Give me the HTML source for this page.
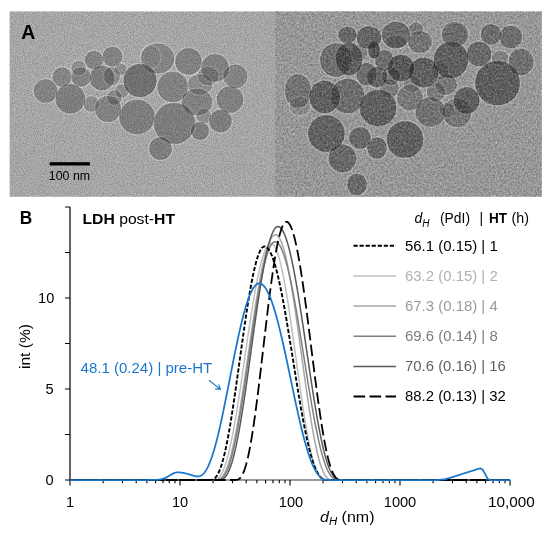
<!DOCTYPE html>
<html><head><meta charset="utf-8"><title>Figure</title>
<style>
html,body{margin:0;padding:0;background:#fff;}
body{width:550px;height:535px;overflow:hidden;font-family:"Liberation Sans",sans-serif;}
svg{display:block}
text{font-family:"Liberation Sans",sans-serif}
</style></head><body>
<svg width="550" height="535" viewBox="0 0 550 535" font-size="14" fill="#000">
<defs>
<filter id="noise" x="0" y="0" width="100%" height="100%">
<feTurbulence type="fractalNoise" baseFrequency="0.9" numOctaves="2" seed="3" result="n"/>
<feColorMatrix type="matrix" values="0 0 0 0 0  0 0 0 0 0  0 0 0 0 0  1.6 0 0 0 -0.55"/>
</filter>
<filter id="noiseW" x="0" y="0" width="100%" height="100%">
<feTurbulence type="fractalNoise" baseFrequency="0.85" numOctaves="2" seed="11" result="n"/>
<feColorMatrix type="matrix" values="0 0 0 0 1  0 0 0 0 1  0 0 0 0 1  0 1.6 0 0 -0.55"/>
</filter>
<filter id="noiseC" x="0" y="0" width="100%" height="100%">
<feTurbulence type="fractalNoise" baseFrequency="0.45" numOctaves="2" seed="7"/>
<feColorMatrix type="matrix" values="0 0 0 0 0  0 0 0 0 0  0 0 0 0 0  2.2 0 0 0 -0.85"/>
</filter>
<filter id="noiseCW" x="0" y="0" width="100%" height="100%">
<feTurbulence type="fractalNoise" baseFrequency="0.45" numOctaves="2" seed="23"/>
<feColorMatrix type="matrix" values="0 0 0 0 1  0 0 0 0 1  0 0 0 0 1  0 2.2 0 0 -0.85"/>
</filter>
<filter id="soft"><feGaussianBlur stdDeviation="0.55"/></filter>
<clipPath id="cl"><rect x="9.8" y="11.5" width="265.7" height="185.2"/></clipPath>
<clipPath id="cr"><rect x="275.5" y="11.5" width="266.3" height="185.2"/></clipPath>
</defs>
<rect width="550" height="535" fill="#fff"/>
<!-- TEM left -->
<rect x="9.8" y="11.5" width="268" height="185.2" fill="#adadad"/>
<g clip-path="url(#cl)"><g filter="url(#soft)">
<ellipse cx="45.6" cy="91" rx="12.4" ry="12.4" fill="none" stroke="#fff" stroke-opacity=".38" stroke-width="1.2"/>
<ellipse cx="70.3" cy="98.7" rx="15.4" ry="15.4" fill="none" stroke="#fff" stroke-opacity=".38" stroke-width="1.2"/>
<ellipse cx="62" cy="77" rx="10.3" ry="10.3" fill="none" stroke="#fff" stroke-opacity=".38" stroke-width="1.2"/>
<ellipse cx="81" cy="77" rx="10.3" ry="10.3" fill="none" stroke="#fff" stroke-opacity=".38" stroke-width="1.2"/>
<ellipse cx="94" cy="60" rx="9.9" ry="9.9" fill="none" stroke="#fff" stroke-opacity=".38" stroke-width="1.2"/>
<ellipse cx="112.5" cy="56.7" rx="10.6" ry="10.6" fill="none" stroke="#fff" stroke-opacity=".38" stroke-width="1.2"/>
<ellipse cx="102" cy="78" rx="12.9" ry="12.9" fill="none" stroke="#fff" stroke-opacity=".38" stroke-width="1.2"/>
<ellipse cx="112" cy="76" rx="8.5" ry="9.9" fill="none" stroke="#fff" stroke-opacity=".38" stroke-width="1.2"/>
<ellipse cx="78.7" cy="68" rx="7.9" ry="7.9" fill="none" stroke="#fff" stroke-opacity=".38" stroke-width="1.2"/>
<ellipse cx="140" cy="80.5" rx="17.2" ry="17.2" fill="none" stroke="#fff" stroke-opacity=".38" stroke-width="1.2"/>
<ellipse cx="108" cy="109" rx="13.6" ry="13.6" fill="none" stroke="#fff" stroke-opacity=".38" stroke-width="1.2"/>
<ellipse cx="91.4" cy="104" rx="8.5" ry="8.5" fill="none" stroke="#fff" stroke-opacity=".38" stroke-width="1.2"/>
<ellipse cx="114.5" cy="97.6" rx="7.9" ry="7.9" fill="none" stroke="#fff" stroke-opacity=".38" stroke-width="1.2"/>
<ellipse cx="137" cy="117" rx="18.4" ry="17.9" fill="none" stroke="#fff" stroke-opacity=".38" stroke-width="1.2"/>
<ellipse cx="122" cy="91" rx="7.300000000000001" ry="7.300000000000001" fill="none" stroke="#fff" stroke-opacity=".38" stroke-width="1.2"/>
<ellipse cx="120.7" cy="69.4" rx="6.5" ry="6.5" fill="none" stroke="#fff" stroke-opacity=".38" stroke-width="1.2"/>
<ellipse cx="157.5" cy="58.5" rx="17.4" ry="15.700000000000001" fill="none" stroke="#fff" stroke-opacity=".38" stroke-width="1.2"/>
<ellipse cx="151" cy="57" rx="9.9" ry="11.9" fill="none" stroke="#fff" stroke-opacity=".38" stroke-width="1.2"/>
<ellipse cx="188.5" cy="61.4" rx="13.9" ry="13.9" fill="none" stroke="#fff" stroke-opacity=".38" stroke-width="1.2"/>
<ellipse cx="215" cy="68" rx="14.5" ry="14.5" fill="none" stroke="#fff" stroke-opacity=".38" stroke-width="1.2"/>
<ellipse cx="208" cy="76" rx="10.9" ry="9.9" fill="none" stroke="#fff" stroke-opacity=".38" stroke-width="1.2"/>
<ellipse cx="235.5" cy="76.4" rx="12.4" ry="12.4" fill="none" stroke="#fff" stroke-opacity=".38" stroke-width="1.2"/>
<ellipse cx="230" cy="99.5" rx="13.9" ry="13.9" fill="none" stroke="#fff" stroke-opacity=".38" stroke-width="1.2"/>
<ellipse cx="220.5" cy="121" rx="11.9" ry="11.9" fill="none" stroke="#fff" stroke-opacity=".38" stroke-width="1.2"/>
<ellipse cx="172.7" cy="87" rx="15.9" ry="15.9" fill="none" stroke="#fff" stroke-opacity=".38" stroke-width="1.2"/>
<ellipse cx="197" cy="102" rx="15.9" ry="13.9" fill="none" stroke="#fff" stroke-opacity=".38" stroke-width="1.2"/>
<ellipse cx="200" cy="84.5" rx="12.9" ry="10.9" fill="none" stroke="#fff" stroke-opacity=".38" stroke-width="1.2"/>
<ellipse cx="174.4" cy="123.3" rx="21.2" ry="21.2" fill="none" stroke="#fff" stroke-opacity=".38" stroke-width="1.2"/>
<ellipse cx="200" cy="131" rx="9.6" ry="9.6" fill="none" stroke="#fff" stroke-opacity=".38" stroke-width="1.2"/>
<ellipse cx="160.5" cy="148.6" rx="11.9" ry="11.9" fill="none" stroke="#fff" stroke-opacity=".38" stroke-width="1.2"/>
<ellipse cx="204" cy="116" rx="7.9" ry="7.9" fill="none" stroke="#fff" stroke-opacity=".38" stroke-width="1.2"/>
<ellipse cx="45.6" cy="91" rx="11.5" ry="11.5" fill="#000" fill-opacity="0.234" stroke="#000" stroke-opacity="0.082" stroke-width="1.6"/>
<ellipse cx="70.3" cy="98.7" rx="14.5" ry="14.5" fill="#000" fill-opacity="0.270" stroke="#000" stroke-opacity="0.095" stroke-width="1.6"/>
<ellipse cx="62" cy="77" rx="9.4" ry="9.4" fill="#000" fill-opacity="0.216" stroke="#000" stroke-opacity="0.076" stroke-width="1.6"/>
<ellipse cx="81" cy="77" rx="9.4" ry="9.4" fill="#000" fill-opacity="0.234" stroke="#000" stroke-opacity="0.082" stroke-width="1.6"/>
<ellipse cx="94" cy="60" rx="9" ry="9" fill="#000" fill-opacity="0.234" stroke="#000" stroke-opacity="0.082" stroke-width="1.6"/>
<ellipse cx="112.5" cy="56.7" rx="9.7" ry="9.7" fill="#000" fill-opacity="0.243" stroke="#000" stroke-opacity="0.085" stroke-width="1.6"/>
<ellipse cx="102" cy="78" rx="12" ry="12" fill="#000" fill-opacity="0.270" stroke="#000" stroke-opacity="0.095" stroke-width="1.6"/>
<ellipse cx="112" cy="76" rx="7.6" ry="9" fill="#000" fill-opacity="0.198" stroke="#000" stroke-opacity="0.069" stroke-width="1.6"/>
<ellipse cx="78.7" cy="68" rx="7" ry="7" fill="#000" fill-opacity="0.162" stroke="#000" stroke-opacity="0.057" stroke-width="1.6"/>
<ellipse cx="140" cy="80.5" rx="16.3" ry="16.3" fill="#000" fill-opacity="0.360" stroke="#000" stroke-opacity="0.126" stroke-width="1.6"/>
<ellipse cx="108" cy="109" rx="12.7" ry="12.7" fill="#000" fill-opacity="0.243" stroke="#000" stroke-opacity="0.085" stroke-width="1.6"/>
<ellipse cx="91.4" cy="104" rx="7.6" ry="7.6" fill="#000" fill-opacity="0.180" stroke="#000" stroke-opacity="0.063" stroke-width="1.6"/>
<ellipse cx="114.5" cy="97.6" rx="7" ry="7" fill="#000" fill-opacity="0.225" stroke="#000" stroke-opacity="0.079" stroke-width="1.6"/>
<ellipse cx="137" cy="117" rx="17.5" ry="17" fill="#000" fill-opacity="0.270" stroke="#000" stroke-opacity="0.095" stroke-width="1.6"/>
<ellipse cx="122" cy="91" rx="6.4" ry="6.4" fill="#000" fill-opacity="0.162" stroke="#000" stroke-opacity="0.057" stroke-width="1.6"/>
<ellipse cx="120.7" cy="69.4" rx="5.6" ry="5.6" fill="#000" fill-opacity="0.180" stroke="#000" stroke-opacity="0.063" stroke-width="1.6"/>
<ellipse cx="157.5" cy="58.5" rx="16.5" ry="14.8" fill="#000" fill-opacity="0.225" stroke="#000" stroke-opacity="0.079" stroke-width="1.6"/>
<ellipse cx="151" cy="57" rx="9" ry="11" fill="#000" fill-opacity="0.045" stroke="#000" stroke-opacity="0.016" stroke-width="1.6"/>
<ellipse cx="188.5" cy="61.4" rx="13" ry="13" fill="#000" fill-opacity="0.252" stroke="#000" stroke-opacity="0.088" stroke-width="1.6"/>
<ellipse cx="215" cy="68" rx="13.6" ry="13.6" fill="#000" fill-opacity="0.252" stroke="#000" stroke-opacity="0.088" stroke-width="1.6"/>
<ellipse cx="208" cy="76" rx="10" ry="9" fill="#000" fill-opacity="0.162" stroke="#000" stroke-opacity="0.057" stroke-width="1.6"/>
<ellipse cx="235.5" cy="76.4" rx="11.5" ry="11.5" fill="#000" fill-opacity="0.234" stroke="#000" stroke-opacity="0.082" stroke-width="1.6"/>
<ellipse cx="230" cy="99.5" rx="13" ry="13" fill="#000" fill-opacity="0.252" stroke="#000" stroke-opacity="0.088" stroke-width="1.6"/>
<ellipse cx="220.5" cy="121" rx="11" ry="11" fill="#000" fill-opacity="0.270" stroke="#000" stroke-opacity="0.095" stroke-width="1.6"/>
<ellipse cx="172.7" cy="87" rx="15" ry="15" fill="#000" fill-opacity="0.243" stroke="#000" stroke-opacity="0.085" stroke-width="1.6"/>
<ellipse cx="197" cy="102" rx="15" ry="13" fill="#000" fill-opacity="0.243" stroke="#000" stroke-opacity="0.085" stroke-width="1.6"/>
<ellipse cx="200" cy="84.5" rx="12" ry="10" fill="#000" fill-opacity="0.180" stroke="#000" stroke-opacity="0.063" stroke-width="1.6"/>
<ellipse cx="174.4" cy="123.3" rx="20.3" ry="20.3" fill="#000" fill-opacity="0.279" stroke="#000" stroke-opacity="0.098" stroke-width="1.6"/>
<ellipse cx="200" cy="131" rx="8.7" ry="8.7" fill="#000" fill-opacity="0.270" stroke="#000" stroke-opacity="0.095" stroke-width="1.6"/>
<ellipse cx="160.5" cy="148.6" rx="11" ry="11" fill="#000" fill-opacity="0.270" stroke="#000" stroke-opacity="0.095" stroke-width="1.6"/>
<ellipse cx="204" cy="116" rx="7" ry="7" fill="#000" fill-opacity="0.180" stroke="#000" stroke-opacity="0.063" stroke-width="1.6"/>
</g></g>
<!-- TEM right -->
<rect x="275.5" y="11.5" width="266.3" height="185.2" fill="#a0a0a0"/>
<g clip-path="url(#cr)"><g filter="url(#soft)">
<ellipse cx="298" cy="91" rx="13.6" ry="17.4" fill="none" stroke="#fff" stroke-opacity=".38" stroke-width="1.2"/>
<ellipse cx="300" cy="106" rx="10.9" ry="9.9" fill="none" stroke="#fff" stroke-opacity=".38" stroke-width="1.2"/>
<ellipse cx="324.6" cy="97" rx="15.9" ry="16.9" fill="none" stroke="#fff" stroke-opacity=".38" stroke-width="1.2"/>
<ellipse cx="336" cy="60" rx="16.4" ry="17.4" fill="none" stroke="#fff" stroke-opacity=".38" stroke-width="1.2"/>
<ellipse cx="349" cy="59" rx="13.9" ry="16.9" fill="none" stroke="#fff" stroke-opacity=".38" stroke-width="1.2"/>
<ellipse cx="347.5" cy="35" rx="9.9" ry="8.9" fill="none" stroke="#fff" stroke-opacity=".38" stroke-width="1.2"/>
<ellipse cx="369" cy="37.5" rx="12.9" ry="11.9" fill="none" stroke="#fff" stroke-opacity=".38" stroke-width="1.2"/>
<ellipse cx="396" cy="35" rx="14.9" ry="13.9" fill="none" stroke="#fff" stroke-opacity=".38" stroke-width="1.2"/>
<ellipse cx="396" cy="42" rx="10.9" ry="6.9" fill="none" stroke="#fff" stroke-opacity=".38" stroke-width="1.2"/>
<ellipse cx="401" cy="68" rx="13.6" ry="13.9" fill="none" stroke="#fff" stroke-opacity=".38" stroke-width="1.2"/>
<ellipse cx="377" cy="77" rx="10.9" ry="10.9" fill="none" stroke="#fff" stroke-opacity=".38" stroke-width="1.2"/>
<ellipse cx="347.5" cy="96" rx="17.4" ry="17.9" fill="none" stroke="#fff" stroke-opacity=".38" stroke-width="1.2"/>
<ellipse cx="378" cy="108" rx="18.9" ry="18.9" fill="none" stroke="#fff" stroke-opacity=".38" stroke-width="1.2"/>
<ellipse cx="410" cy="97.5" rx="13.4" ry="13.4" fill="none" stroke="#fff" stroke-opacity=".38" stroke-width="1.2"/>
<ellipse cx="374" cy="50" rx="6.4" ry="9.4" fill="none" stroke="#fff" stroke-opacity=".38" stroke-width="1.2"/>
<ellipse cx="455" cy="34.4" rx="13.6" ry="12.9" fill="none" stroke="#fff" stroke-opacity=".38" stroke-width="1.2"/>
<ellipse cx="491" cy="34.4" rx="10.9" ry="10.9" fill="none" stroke="#fff" stroke-opacity=".38" stroke-width="1.2"/>
<ellipse cx="510.7" cy="37" rx="11.9" ry="11.9" fill="none" stroke="#fff" stroke-opacity=".38" stroke-width="1.2"/>
<ellipse cx="521" cy="62" rx="12.9" ry="13.9" fill="none" stroke="#fff" stroke-opacity=".38" stroke-width="1.2"/>
<ellipse cx="497.5" cy="83" rx="22.9" ry="22.9" fill="none" stroke="#fff" stroke-opacity=".38" stroke-width="1.2"/>
<ellipse cx="451" cy="60" rx="17.9" ry="18.9" fill="none" stroke="#fff" stroke-opacity=".38" stroke-width="1.2"/>
<ellipse cx="479" cy="54" rx="12.9" ry="12.9" fill="none" stroke="#fff" stroke-opacity=".38" stroke-width="1.2"/>
<ellipse cx="423.7" cy="72.6" rx="15.4" ry="15.4" fill="none" stroke="#fff" stroke-opacity=".38" stroke-width="1.2"/>
<ellipse cx="466.6" cy="100.5" rx="13.4" ry="13.9" fill="none" stroke="#fff" stroke-opacity=".38" stroke-width="1.2"/>
<ellipse cx="420" cy="42" rx="12.4" ry="11.4" fill="none" stroke="#fff" stroke-opacity=".38" stroke-width="1.2"/>
<ellipse cx="416" cy="29" rx="7.5" ry="6.9" fill="none" stroke="#fff" stroke-opacity=".38" stroke-width="1.2"/>
<ellipse cx="430.5" cy="112" rx="15.4" ry="15.4" fill="none" stroke="#fff" stroke-opacity=".38" stroke-width="1.2"/>
<ellipse cx="446" cy="84.5" rx="11.4" ry="10.9" fill="none" stroke="#fff" stroke-opacity=".38" stroke-width="1.2"/>
<ellipse cx="457" cy="113" rx="14.9" ry="14.9" fill="none" stroke="#fff" stroke-opacity=".38" stroke-width="1.2"/>
<ellipse cx="326.4" cy="133.6" rx="18.9" ry="18.9" fill="none" stroke="#fff" stroke-opacity=".38" stroke-width="1.2"/>
<ellipse cx="360" cy="138" rx="11.4" ry="11.4" fill="none" stroke="#fff" stroke-opacity=".38" stroke-width="1.2"/>
<ellipse cx="342.4" cy="158.4" rx="14.4" ry="14.4" fill="none" stroke="#fff" stroke-opacity=".38" stroke-width="1.2"/>
<ellipse cx="377" cy="148" rx="10.4" ry="11.4" fill="none" stroke="#fff" stroke-opacity=".38" stroke-width="1.2"/>
<ellipse cx="405" cy="139.5" rx="18.9" ry="18.9" fill="none" stroke="#fff" stroke-opacity=".38" stroke-width="1.2"/>
<ellipse cx="357" cy="184.5" rx="10.4" ry="11.4" fill="none" stroke="#fff" stroke-opacity=".38" stroke-width="1.2"/>
<ellipse cx="447" cy="110" rx="7.9" ry="7.9" fill="none" stroke="#fff" stroke-opacity=".38" stroke-width="1.2"/>
<ellipse cx="500" cy="58" rx="8.9" ry="7.9" fill="none" stroke="#fff" stroke-opacity=".38" stroke-width="1.2"/>
<ellipse cx="366.6" cy="74.3" rx="10.9" ry="11.9" fill="none" stroke="#fff" stroke-opacity=".38" stroke-width="1.2"/>
<ellipse cx="384.4" cy="60.3" rx="9.9" ry="10.9" fill="none" stroke="#fff" stroke-opacity=".38" stroke-width="1.2"/>
<ellipse cx="391" cy="76" rx="9.4" ry="9.9" fill="none" stroke="#fff" stroke-opacity=".38" stroke-width="1.2"/>
<ellipse cx="359" cy="52.7" rx="8.9" ry="8.9" fill="none" stroke="#fff" stroke-opacity=".38" stroke-width="1.2"/>
<ellipse cx="389.5" cy="88.3" rx="9.9" ry="9.9" fill="none" stroke="#fff" stroke-opacity=".38" stroke-width="1.2"/>
<ellipse cx="436" cy="92" rx="9.9" ry="9.9" fill="none" stroke="#fff" stroke-opacity=".38" stroke-width="1.2"/>
<ellipse cx="440" cy="70" rx="8.9" ry="9.9" fill="none" stroke="#fff" stroke-opacity=".38" stroke-width="1.2"/>
<ellipse cx="412" cy="84" rx="8.9" ry="8.9" fill="none" stroke="#fff" stroke-opacity=".38" stroke-width="1.2"/>
<ellipse cx="298" cy="91" rx="12.7" ry="16.5" fill="#000" fill-opacity="0.297" stroke="#000" stroke-opacity="0.104" stroke-width="1.6"/>
<ellipse cx="300" cy="106" rx="10" ry="9" fill="#000" fill-opacity="0.135" stroke="#000" stroke-opacity="0.047" stroke-width="1.6"/>
<ellipse cx="324.6" cy="97" rx="15" ry="16" fill="#000" fill-opacity="0.450" stroke="#000" stroke-opacity="0.158" stroke-width="1.6"/>
<ellipse cx="336" cy="60" rx="15.5" ry="16.5" fill="#000" fill-opacity="0.324" stroke="#000" stroke-opacity="0.113" stroke-width="1.6"/>
<ellipse cx="349" cy="59" rx="13" ry="16" fill="#000" fill-opacity="0.450" stroke="#000" stroke-opacity="0.158" stroke-width="1.6"/>
<ellipse cx="347.5" cy="35" rx="9" ry="8" fill="#000" fill-opacity="0.378" stroke="#000" stroke-opacity="0.132" stroke-width="1.6"/>
<ellipse cx="369" cy="37.5" rx="12" ry="11" fill="#000" fill-opacity="0.405" stroke="#000" stroke-opacity="0.142" stroke-width="1.6"/>
<ellipse cx="396" cy="35" rx="14" ry="13" fill="#000" fill-opacity="0.360" stroke="#000" stroke-opacity="0.126" stroke-width="1.6"/>
<ellipse cx="396" cy="42" rx="10" ry="6" fill="#000" fill-opacity="0.225" stroke="#000" stroke-opacity="0.079" stroke-width="1.6"/>
<ellipse cx="401" cy="68" rx="12.7" ry="13" fill="#000" fill-opacity="0.504" stroke="#000" stroke-opacity="0.176" stroke-width="1.6"/>
<ellipse cx="377" cy="77" rx="10" ry="10" fill="#000" fill-opacity="0.405" stroke="#000" stroke-opacity="0.142" stroke-width="1.6"/>
<ellipse cx="347.5" cy="96" rx="16.5" ry="17" fill="#000" fill-opacity="0.342" stroke="#000" stroke-opacity="0.120" stroke-width="1.6"/>
<ellipse cx="378" cy="108" rx="18" ry="18" fill="#000" fill-opacity="0.450" stroke="#000" stroke-opacity="0.158" stroke-width="1.6"/>
<ellipse cx="410" cy="97.5" rx="12.5" ry="12.5" fill="#000" fill-opacity="0.243" stroke="#000" stroke-opacity="0.085" stroke-width="1.6"/>
<ellipse cx="374" cy="50" rx="5.5" ry="8.5" fill="#000" fill-opacity="0.540" stroke="#000" stroke-opacity="0.189" stroke-width="1.6"/>
<ellipse cx="455" cy="34.4" rx="12.7" ry="12" fill="#000" fill-opacity="0.342" stroke="#000" stroke-opacity="0.120" stroke-width="1.6"/>
<ellipse cx="491" cy="34.4" rx="10" ry="10" fill="#000" fill-opacity="0.342" stroke="#000" stroke-opacity="0.120" stroke-width="1.6"/>
<ellipse cx="510.7" cy="37" rx="11" ry="11" fill="#000" fill-opacity="0.342" stroke="#000" stroke-opacity="0.120" stroke-width="1.6"/>
<ellipse cx="521" cy="62" rx="12" ry="13" fill="#000" fill-opacity="0.324" stroke="#000" stroke-opacity="0.113" stroke-width="1.6"/>
<ellipse cx="497.5" cy="83" rx="22" ry="22" fill="#000" fill-opacity="0.468" stroke="#000" stroke-opacity="0.164" stroke-width="1.6"/>
<ellipse cx="451" cy="60" rx="17" ry="18" fill="#000" fill-opacity="0.450" stroke="#000" stroke-opacity="0.158" stroke-width="1.6"/>
<ellipse cx="479" cy="54" rx="12" ry="12" fill="#000" fill-opacity="0.378" stroke="#000" stroke-opacity="0.132" stroke-width="1.6"/>
<ellipse cx="423.7" cy="72.6" rx="14.5" ry="14.5" fill="#000" fill-opacity="0.450" stroke="#000" stroke-opacity="0.158" stroke-width="1.6"/>
<ellipse cx="466.6" cy="100.5" rx="12.5" ry="13" fill="#000" fill-opacity="0.450" stroke="#000" stroke-opacity="0.158" stroke-width="1.6"/>
<ellipse cx="420" cy="42" rx="11.5" ry="10.5" fill="#000" fill-opacity="0.288" stroke="#000" stroke-opacity="0.101" stroke-width="1.6"/>
<ellipse cx="416" cy="29" rx="6.6" ry="6" fill="#000" fill-opacity="0.252" stroke="#000" stroke-opacity="0.088" stroke-width="1.6"/>
<ellipse cx="430.5" cy="112" rx="14.5" ry="14.5" fill="#000" fill-opacity="0.306" stroke="#000" stroke-opacity="0.107" stroke-width="1.6"/>
<ellipse cx="446" cy="84.5" rx="10.5" ry="10" fill="#000" fill-opacity="0.270" stroke="#000" stroke-opacity="0.095" stroke-width="1.6"/>
<ellipse cx="457" cy="113" rx="14" ry="14" fill="#000" fill-opacity="0.270" stroke="#000" stroke-opacity="0.095" stroke-width="1.6"/>
<ellipse cx="326.4" cy="133.6" rx="18" ry="18" fill="#000" fill-opacity="0.432" stroke="#000" stroke-opacity="0.151" stroke-width="1.6"/>
<ellipse cx="360" cy="138" rx="10.5" ry="10.5" fill="#000" fill-opacity="0.378" stroke="#000" stroke-opacity="0.132" stroke-width="1.6"/>
<ellipse cx="342.4" cy="158.4" rx="13.5" ry="13.5" fill="#000" fill-opacity="0.378" stroke="#000" stroke-opacity="0.132" stroke-width="1.6"/>
<ellipse cx="377" cy="148" rx="9.5" ry="10.5" fill="#000" fill-opacity="0.378" stroke="#000" stroke-opacity="0.132" stroke-width="1.6"/>
<ellipse cx="405" cy="139.5" rx="18" ry="18" fill="#000" fill-opacity="0.450" stroke="#000" stroke-opacity="0.158" stroke-width="1.6"/>
<ellipse cx="357" cy="184.5" rx="9.5" ry="10.5" fill="#000" fill-opacity="0.378" stroke="#000" stroke-opacity="0.132" stroke-width="1.6"/>
<ellipse cx="447" cy="110" rx="7" ry="7" fill="#000" fill-opacity="0.180" stroke="#000" stroke-opacity="0.063" stroke-width="1.6"/>
<ellipse cx="500" cy="58" rx="8" ry="7" fill="#000" fill-opacity="0.180" stroke="#000" stroke-opacity="0.063" stroke-width="1.6"/>
<ellipse cx="366.6" cy="74.3" rx="10" ry="11" fill="#000" fill-opacity="0.342" stroke="#000" stroke-opacity="0.120" stroke-width="1.6"/>
<ellipse cx="384.4" cy="60.3" rx="9" ry="10" fill="#000" fill-opacity="0.342" stroke="#000" stroke-opacity="0.120" stroke-width="1.6"/>
<ellipse cx="391" cy="76" rx="8.5" ry="9" fill="#000" fill-opacity="0.270" stroke="#000" stroke-opacity="0.095" stroke-width="1.6"/>
<ellipse cx="359" cy="52.7" rx="8" ry="8" fill="#000" fill-opacity="0.198" stroke="#000" stroke-opacity="0.069" stroke-width="1.6"/>
<ellipse cx="389.5" cy="88.3" rx="9" ry="9" fill="#000" fill-opacity="0.225" stroke="#000" stroke-opacity="0.079" stroke-width="1.6"/>
<ellipse cx="436" cy="92" rx="9" ry="9" fill="#000" fill-opacity="0.225" stroke="#000" stroke-opacity="0.079" stroke-width="1.6"/>
<ellipse cx="440" cy="70" rx="8" ry="9" fill="#000" fill-opacity="0.180" stroke="#000" stroke-opacity="0.063" stroke-width="1.6"/>
<ellipse cx="412" cy="84" rx="8" ry="8" fill="#000" fill-opacity="0.180" stroke="#000" stroke-opacity="0.063" stroke-width="1.6"/>
</g></g>
<rect x="9.8" y="11.5" width="532" height="185.2" filter="url(#noise)" opacity=".30"/>
<rect x="9.8" y="11.5" width="532" height="185.2" filter="url(#noiseW)" opacity=".26"/>
<rect x="275.5" y="11.5" width="266.3" height="185.2" filter="url(#noiseC)" opacity=".22"/>
<rect x="275.5" y="11.5" width="266.3" height="185.2" filter="url(#noiseCW)" opacity=".2"/>
<text x="21.3" y="39.2" font-size="20" font-weight="bold" textLength="14" lengthAdjust="spacingAndGlyphs">A</text>
<rect x="49.7" y="162.2" width="40.2" height="3.3" fill="#000"/>
<text x="48.8" y="180" font-size="12" textLength="41.3" lengthAdjust="spacingAndGlyphs">100 nm</text>

<!-- plot -->
<text x="19.8" y="224.1" font-size="18.5" font-weight="bold" textLength="12.5" lengthAdjust="spacingAndGlyphs">B</text>
<text x="82.5" y="224.1" textLength="92.5" lengthAdjust="spacingAndGlyphs"><tspan font-weight="bold">LDH</tspan> post-<tspan font-weight="bold">HT</tspan></text>
<path d="M70,207V480.6" fill="none" stroke="#222" stroke-width="1.4"/><path d="M69.3,480H510" fill="none" stroke="#222" stroke-width="0.9"/>
<path d="M70,480v5.5M103.1,480v3.2M122.5,480v3.2M136.2,480v3.2M146.9,480v3.2M155.6,480v3.2M163.0,480v3.2M169.3,480v3.2M175.0,480v3.2M180,480v5.5M213.1,480v3.2M232.5,480v3.2M246.2,480v3.2M256.9,480v3.2M265.6,480v3.2M273.0,480v3.2M279.3,480v3.2M285.0,480v3.2M290,480v5.5M323.1,480v3.2M342.5,480v3.2M356.2,480v3.2M366.9,480v3.2M375.6,480v3.2M383.0,480v3.2M389.3,480v3.2M395.0,480v3.2M400,480v5.5M433.1,480v3.2M452.5,480v3.2M466.2,480v3.2M476.9,480v3.2M485.6,480v3.2M493.0,480v3.2M499.3,480v3.2M505.0,480v3.2M510,480v5.5M70,480.0h-5M70,434.5h-5M70,389.0h-5M70,343.5h-5M70,298.0h-5M70,252.5h-5M70,207.0h-5" fill="none" stroke="#000" stroke-width="1.1"/>
<g font-size="14.6"><text x="54.3" y="302.8" text-anchor="end">10</text>
<text x="53.6" y="393.7" text-anchor="end">5</text>
<text x="53.6" y="484.8" text-anchor="end">0</text>
<text transform="translate(30.2,346.5) rotate(-90)" text-anchor="middle" textLength="45" lengthAdjust="spacingAndGlyphs">int (%)</text>
<text x="70" y="507" text-anchor="middle">1</text>
<text x="180" y="507" text-anchor="middle">10</text>
<text x="291" y="507" text-anchor="middle">100</text>
<text x="400" y="507" text-anchor="middle">1000</text>
<text x="488" y="507" textLength="46.8" lengthAdjust="spacingAndGlyphs">10,000</text></g>
<text x="320" y="521.5" textLength="54.5" lengthAdjust="spacingAndGlyphs"><tspan font-style="italic">d</tspan><tspan font-style="italic" font-size="10" dy="3">H</tspan><tspan dy="-3"> (nm)</tspan></text>
<path d="M70.0,480.00 L71.0,480.00 L72.0,480.00 L73.0,480.00 L74.0,480.00 L75.0,480.00 L76.0,480.00 L77.0,480.00 L78.0,480.00 L79.0,480.00 L80.0,480.00 L81.0,480.00 L82.0,480.00 L83.0,480.00 L84.0,480.00 L85.0,480.00 L86.0,480.00 L87.0,480.00 L88.0,480.00 L89.0,480.00 L90.0,480.00 L91.0,480.00 L92.0,480.00 L93.0,480.00 L94.0,480.00 L95.0,480.00 L96.0,480.00 L97.0,480.00 L98.0,480.00 L99.0,480.00 L100.0,480.00 L101.0,480.00 L102.0,480.00 L103.0,480.00 L104.0,480.00 L105.0,480.00 L106.0,480.00 L107.0,480.00 L108.0,480.00 L109.0,480.00 L110.0,480.00 L111.0,480.00 L112.0,480.00 L113.0,480.00 L114.0,480.00 L115.0,480.00 L116.0,480.00 L117.0,480.00 L118.0,480.00 L119.0,480.00 L120.0,480.00 L121.0,480.00 L122.0,480.00 L123.0,480.00 L124.0,480.00 L125.0,480.00 L126.0,480.00 L127.0,480.00 L128.0,480.00 L129.0,480.00 L130.0,480.00 L131.0,480.00 L132.0,480.00 L133.0,480.00 L134.0,480.00 L135.0,480.00 L136.0,480.00 L137.0,480.00 L138.0,480.00 L139.0,480.00 L140.0,480.00 L141.0,480.00 L142.0,480.00 L143.0,480.00 L144.0,480.00 L145.0,480.00 L146.0,480.00 L147.0,480.00 L148.0,480.00 L149.0,480.00 L150.0,480.00 L151.0,480.00 L152.0,480.00 L153.0,480.00 L154.0,480.00 L155.0,480.00 L156.0,480.00 L157.0,480.00 L158.0,480.00 L159.0,480.00 L160.0,480.00 L161.0,480.00 L162.0,480.00 L163.0,480.00 L164.0,480.00 L165.0,480.00 L166.0,480.00 L167.0,480.00 L168.0,480.00 L169.0,480.00 L170.0,480.00 L171.0,480.00 L172.0,480.00 L173.0,480.00 L174.0,480.00 L175.0,480.00 L176.0,480.00 L177.0,480.00 L178.0,480.00 L179.0,480.00 L180.0,480.00 L181.0,480.00 L182.0,480.00 L183.0,480.00 L184.0,480.00 L185.0,480.00 L186.0,480.00 L187.0,480.00 L188.0,480.00 L189.0,480.00 L190.0,480.00 L191.0,480.00 L192.0,480.00 L193.0,480.00 L194.0,480.00 L195.0,480.00 L196.0,480.00 L197.0,480.00 L198.0,480.00 L199.0,480.00 L200.0,480.00 L201.0,480.00 L202.0,480.00 L203.0,480.00 L204.0,480.00 L205.0,480.00 L206.0,480.00 L207.0,480.00 L208.0,480.00 L209.0,480.00 L210.0,480.00 L211.0,480.00 L212.0,480.00 L213.0,479.99 L214.0,479.93 L215.0,479.77 L216.0,479.47 L217.0,478.99 L218.0,478.30 L219.0,477.37 L220.0,476.18 L221.0,474.70 L222.0,472.93 L223.0,470.85 L224.0,468.46 L225.0,465.73 L226.0,462.69 L227.0,459.31 L228.0,455.62 L229.0,451.61 L230.0,447.29 L231.0,442.67 L232.0,437.77 L233.0,432.59 L234.0,427.16 L235.0,421.49 L236.0,415.59 L237.0,409.50 L238.0,403.23 L239.0,396.80 L240.0,390.24 L241.0,383.56 L242.0,376.79 L243.0,369.96 L244.0,363.09 L245.0,356.21 L246.0,349.33 L247.0,342.49 L248.0,335.70 L249.0,329.00 L250.0,322.41 L251.0,315.95 L252.0,309.64 L253.0,303.51 L254.0,297.57 L255.0,291.86 L256.0,286.38 L257.0,281.16 L258.0,276.21 L259.0,271.56 L260.0,267.23 L261.0,263.21 L262.0,259.54 L263.0,256.21 L264.0,253.25 L265.0,250.66 L266.0,248.46 L267.0,246.65 L268.0,245.23 L269.0,244.21 L270.0,243.60 L271.0,243.40 L272.0,243.63 L273.0,244.30 L274.0,245.43 L275.0,247.00 L276.0,249.01 L277.0,251.46 L278.0,254.32 L279.0,257.59 L280.0,261.26 L281.0,265.32 L282.0,269.74 L283.0,274.52 L284.0,279.63 L285.0,285.05 L286.0,290.76 L287.0,296.74 L288.0,302.97 L289.0,309.42 L290.0,316.06 L291.0,322.88 L292.0,329.84 L293.0,336.91 L294.0,344.07 L295.0,351.29 L296.0,358.54 L297.0,365.79 L298.0,373.02 L299.0,380.18 L300.0,387.27 L301.0,394.24 L302.0,401.07 L303.0,407.73 L304.0,414.20 L305.0,420.45 L306.0,426.46 L307.0,432.21 L308.0,437.68 L309.0,442.84 L310.0,447.69 L311.0,452.20 L312.0,456.37 L313.0,460.19 L314.0,463.65 L315.0,466.74 L316.0,469.48 L317.0,471.86 L318.0,473.89 L319.0,475.58 L320.0,476.95 L321.0,478.03 L322.0,478.83 L323.0,479.38 L324.0,479.73 L325.0,479.92 L326.0,479.99 L327.0,480.00 L328.0,480.00 L329.0,480.00 L330.0,480.00 L331.0,480.00 L332.0,480.00 L333.0,480.00 L334.0,480.00 L335.0,480.00 L336.0,480.00 L337.0,480.00 L338.0,480.00 L339.0,480.00 L340.0,480.00 L341.0,480.00 L342.0,480.00 L343.0,480.00 L344.0,480.00 L345.0,480.00 L346.0,480.00 L347.0,480.00 L348.0,480.00 L349.0,480.00 L350.0,480.00 L351.0,480.00 L352.0,480.00 L353.0,480.00 L354.0,480.00 L355.0,480.00 L356.0,480.00 L357.0,480.00 L358.0,480.00 L359.0,480.00 L360.0,480.00 L361.0,480.00 L362.0,480.00 L363.0,480.00 L364.0,480.00 L365.0,480.00 L366.0,480.00 L367.0,480.00 L368.0,480.00 L369.0,480.00 L370.0,480.00 L371.0,480.00 L372.0,480.00 L373.0,480.00 L374.0,480.00 L375.0,480.00 L376.0,480.00 L377.0,480.00 L378.0,480.00 L379.0,480.00 L380.0,480.00 L381.0,480.00 L382.0,480.00 L383.0,480.00 L384.0,480.00 L385.0,480.00 L386.0,480.00 L387.0,480.00 L388.0,480.00 L389.0,480.00 L390.0,480.00 L391.0,480.00 L392.0,480.00 L393.0,480.00 L394.0,480.00 L395.0,480.00 L396.0,480.00 L397.0,480.00 L398.0,480.00 L399.0,480.00 L400.0,480.00 L401.0,480.00 L402.0,480.00 L403.0,480.00 L404.0,480.00 L405.0,480.00 L406.0,480.00 L407.0,480.00 L408.0,480.00 L409.0,480.00 L410.0,480.00 L411.0,480.00 L412.0,480.00 L413.0,480.00 L414.0,480.00 L415.0,480.00 L416.0,480.00 L417.0,480.00 L418.0,480.00 L419.0,480.00 L420.0,480.00 L421.0,480.00 L422.0,480.00 L423.0,480.00 L424.0,480.00 L425.0,480.00 L426.0,480.00 L427.0,480.00 L428.0,480.00 L429.0,480.00 L430.0,480.00 L431.0,480.00 L432.0,480.00 L433.0,480.00 L434.0,480.00 L435.0,480.00 L436.0,480.00 L437.0,480.00 L438.0,480.00 L439.0,480.00 L440.0,480.00 L441.0,480.00 L442.0,480.00 L443.0,480.00 L444.0,480.00 L445.0,480.00 L446.0,480.00 L447.0,480.00 L448.0,480.00 L449.0,480.00 L450.0,480.00 L451.0,480.00 L452.0,480.00 L453.0,480.00 L454.0,480.00 L455.0,480.00 L456.0,480.00 L457.0,480.00 L458.0,480.00 L459.0,480.00 L460.0,480.00 L461.0,480.00 L462.0,480.00 L463.0,480.00 L464.0,480.00 L465.0,480.00 L466.0,480.00 L467.0,480.00 L468.0,480.00 L469.0,480.00 L470.0,480.00 L471.0,480.00 L472.0,480.00 L473.0,480.00 L474.0,480.00 L475.0,480.00 L476.0,480.00 L477.0,480.00 L478.0,480.00 L479.0,480.00 L480.0,480.00 L481.0,480.00 L482.0,480.00 L483.0,480.00 L484.0,480.00 L485.0,480.00 L486.0,480.00 L487.0,480.00 L488.0,480.00 L489.0,480.00 L490.0,480.00 L491.0,480.00 L492.0,480.00 L493.0,480.00 L494.0,480.00 L495.0,480.00 L496.0,480.00 L497.0,480.00 L498.0,480.00 L499.0,480.00 L500.0,480.00 L501.0,480.00 L502.0,480.00 L503.0,480.00 L504.0,480.00 L505.0,480.00 L506.0,480.00 L507.0,480.00 L508.0,480.00 L509.0,480.00 L510.0,480.00" fill="none" stroke="#bfbfbf" stroke-width="1.5" stroke-linejoin="round"/>
<path d="M70.0,480.00 L71.0,480.00 L72.0,480.00 L73.0,480.00 L74.0,480.00 L75.0,480.00 L76.0,480.00 L77.0,480.00 L78.0,480.00 L79.0,480.00 L80.0,480.00 L81.0,480.00 L82.0,480.00 L83.0,480.00 L84.0,480.00 L85.0,480.00 L86.0,480.00 L87.0,480.00 L88.0,480.00 L89.0,480.00 L90.0,480.00 L91.0,480.00 L92.0,480.00 L93.0,480.00 L94.0,480.00 L95.0,480.00 L96.0,480.00 L97.0,480.00 L98.0,480.00 L99.0,480.00 L100.0,480.00 L101.0,480.00 L102.0,480.00 L103.0,480.00 L104.0,480.00 L105.0,480.00 L106.0,480.00 L107.0,480.00 L108.0,480.00 L109.0,480.00 L110.0,480.00 L111.0,480.00 L112.0,480.00 L113.0,480.00 L114.0,480.00 L115.0,480.00 L116.0,480.00 L117.0,480.00 L118.0,480.00 L119.0,480.00 L120.0,480.00 L121.0,480.00 L122.0,480.00 L123.0,480.00 L124.0,480.00 L125.0,480.00 L126.0,480.00 L127.0,480.00 L128.0,480.00 L129.0,480.00 L130.0,480.00 L131.0,480.00 L132.0,480.00 L133.0,480.00 L134.0,480.00 L135.0,480.00 L136.0,480.00 L137.0,480.00 L138.0,480.00 L139.0,480.00 L140.0,480.00 L141.0,480.00 L142.0,480.00 L143.0,480.00 L144.0,480.00 L145.0,480.00 L146.0,480.00 L147.0,480.00 L148.0,480.00 L149.0,480.00 L150.0,480.00 L151.0,480.00 L152.0,480.00 L153.0,480.00 L154.0,480.00 L155.0,480.00 L156.0,480.00 L157.0,480.00 L158.0,480.00 L159.0,480.00 L160.0,480.00 L161.0,480.00 L162.0,480.00 L163.0,480.00 L164.0,480.00 L165.0,480.00 L166.0,480.00 L167.0,480.00 L168.0,480.00 L169.0,480.00 L170.0,480.00 L171.0,480.00 L172.0,480.00 L173.0,480.00 L174.0,480.00 L175.0,480.00 L176.0,480.00 L177.0,480.00 L178.0,480.00 L179.0,480.00 L180.0,480.00 L181.0,480.00 L182.0,480.00 L183.0,480.00 L184.0,480.00 L185.0,480.00 L186.0,480.00 L187.0,480.00 L188.0,480.00 L189.0,480.00 L190.0,480.00 L191.0,480.00 L192.0,480.00 L193.0,480.00 L194.0,480.00 L195.0,480.00 L196.0,480.00 L197.0,480.00 L198.0,480.00 L199.0,480.00 L200.0,480.00 L201.0,480.00 L202.0,480.00 L203.0,480.00 L204.0,480.00 L205.0,480.00 L206.0,480.00 L207.0,480.00 L208.0,480.00 L209.0,480.00 L210.0,480.00 L211.0,480.00 L212.0,480.00 L213.0,480.00 L214.0,480.00 L215.0,480.00 L216.0,479.97 L217.0,479.87 L218.0,479.66 L219.0,479.30 L220.0,478.75 L221.0,477.99 L222.0,476.98 L223.0,475.72 L224.0,474.19 L225.0,472.36 L226.0,470.23 L227.0,467.79 L228.0,465.04 L229.0,461.97 L230.0,458.58 L231.0,454.88 L232.0,450.88 L233.0,446.57 L234.0,441.98 L235.0,437.10 L236.0,431.96 L237.0,426.57 L238.0,420.94 L239.0,415.09 L240.0,409.04 L241.0,402.82 L242.0,396.43 L243.0,389.89 L244.0,383.24 L245.0,376.50 L246.0,369.68 L247.0,362.81 L248.0,355.91 L249.0,349.00 L250.0,342.12 L251.0,335.27 L252.0,328.49 L253.0,321.79 L254.0,315.21 L255.0,308.75 L256.0,302.45 L257.0,296.32 L258.0,290.39 L259.0,284.67 L260.0,279.18 L261.0,273.95 L262.0,268.98 L263.0,264.29 L264.0,259.90 L265.0,255.83 L266.0,252.09 L267.0,248.68 L268.0,245.62 L269.0,242.93 L270.0,240.60 L271.0,238.65 L272.0,237.08 L273.0,235.90 L274.0,235.11 L275.0,234.71 L276.0,234.72 L277.0,235.16 L278.0,236.03 L279.0,237.33 L280.0,239.07 L281.0,241.22 L282.0,243.79 L283.0,246.77 L284.0,250.13 L285.0,253.88 L286.0,258.00 L287.0,262.48 L288.0,267.29 L289.0,272.42 L290.0,277.85 L291.0,283.56 L292.0,289.54 L293.0,295.75 L294.0,302.18 L295.0,308.81 L296.0,315.60 L297.0,322.54 L298.0,329.59 L299.0,336.74 L300.0,343.95 L301.0,351.20 L302.0,358.47 L303.0,365.71 L304.0,372.92 L305.0,380.06 L306.0,387.10 L307.0,394.02 L308.0,400.79 L309.0,407.40 L310.0,413.81 L311.0,420.00 L312.0,425.95 L313.0,431.64 L314.0,437.06 L315.0,442.18 L316.0,446.99 L317.0,451.48 L318.0,455.64 L319.0,459.46 L320.0,462.92 L321.0,466.04 L322.0,468.82 L323.0,471.24 L324.0,473.33 L325.0,475.08 L326.0,476.53 L327.0,477.68 L328.0,478.55 L329.0,479.19 L330.0,479.61 L331.0,479.85 L332.0,479.97 L333.0,480.00 L334.0,480.00 L335.0,480.00 L336.0,480.00 L337.0,480.00 L338.0,480.00 L339.0,480.00 L340.0,480.00 L341.0,480.00 L342.0,480.00 L343.0,480.00 L344.0,480.00 L345.0,480.00 L346.0,480.00 L347.0,480.00 L348.0,480.00 L349.0,480.00 L350.0,480.00 L351.0,480.00 L352.0,480.00 L353.0,480.00 L354.0,480.00 L355.0,480.00 L356.0,480.00 L357.0,480.00 L358.0,480.00 L359.0,480.00 L360.0,480.00 L361.0,480.00 L362.0,480.00 L363.0,480.00 L364.0,480.00 L365.0,480.00 L366.0,480.00 L367.0,480.00 L368.0,480.00 L369.0,480.00 L370.0,480.00 L371.0,480.00 L372.0,480.00 L373.0,480.00 L374.0,480.00 L375.0,480.00 L376.0,480.00 L377.0,480.00 L378.0,480.00 L379.0,480.00 L380.0,480.00 L381.0,480.00 L382.0,480.00 L383.0,480.00 L384.0,480.00 L385.0,480.00 L386.0,480.00 L387.0,480.00 L388.0,480.00 L389.0,480.00 L390.0,480.00 L391.0,480.00 L392.0,480.00 L393.0,480.00 L394.0,480.00 L395.0,480.00 L396.0,480.00 L397.0,480.00 L398.0,480.00 L399.0,480.00 L400.0,480.00 L401.0,480.00 L402.0,480.00 L403.0,480.00 L404.0,480.00 L405.0,480.00 L406.0,480.00 L407.0,480.00 L408.0,480.00 L409.0,480.00 L410.0,480.00 L411.0,480.00 L412.0,480.00 L413.0,480.00 L414.0,480.00 L415.0,480.00 L416.0,480.00 L417.0,480.00 L418.0,480.00 L419.0,480.00 L420.0,480.00 L421.0,480.00 L422.0,480.00 L423.0,480.00 L424.0,480.00 L425.0,480.00 L426.0,480.00 L427.0,480.00 L428.0,480.00 L429.0,480.00 L430.0,480.00 L431.0,480.00 L432.0,480.00 L433.0,480.00 L434.0,480.00 L435.0,480.00 L436.0,480.00 L437.0,480.00 L438.0,480.00 L439.0,480.00 L440.0,480.00 L441.0,480.00 L442.0,480.00 L443.0,480.00 L444.0,480.00 L445.0,480.00 L446.0,480.00 L447.0,480.00 L448.0,480.00 L449.0,480.00 L450.0,480.00 L451.0,480.00 L452.0,480.00 L453.0,480.00 L454.0,480.00 L455.0,480.00 L456.0,480.00 L457.0,480.00 L458.0,480.00 L459.0,480.00 L460.0,480.00 L461.0,480.00 L462.0,480.00 L463.0,480.00 L464.0,480.00 L465.0,480.00 L466.0,480.00 L467.0,480.00 L468.0,480.00 L469.0,480.00 L470.0,480.00 L471.0,480.00 L472.0,480.00 L473.0,480.00 L474.0,480.00 L475.0,480.00 L476.0,480.00 L477.0,480.00 L478.0,480.00 L479.0,480.00 L480.0,480.00 L481.0,480.00 L482.0,480.00 L483.0,480.00 L484.0,480.00 L485.0,480.00 L486.0,480.00 L487.0,480.00 L488.0,480.00 L489.0,480.00 L490.0,480.00 L491.0,480.00 L492.0,480.00 L493.0,480.00 L494.0,480.00 L495.0,480.00 L496.0,480.00 L497.0,480.00 L498.0,480.00 L499.0,480.00 L500.0,480.00 L501.0,480.00 L502.0,480.00 L503.0,480.00 L504.0,480.00 L505.0,480.00 L506.0,480.00 L507.0,480.00 L508.0,480.00 L509.0,480.00 L510.0,480.00" fill="none" stroke="#a6a6a6" stroke-width="1.5" stroke-linejoin="round"/>
<path d="M70.0,480.00 L71.0,480.00 L72.0,480.00 L73.0,480.00 L74.0,480.00 L75.0,480.00 L76.0,480.00 L77.0,480.00 L78.0,480.00 L79.0,480.00 L80.0,480.00 L81.0,480.00 L82.0,480.00 L83.0,480.00 L84.0,480.00 L85.0,480.00 L86.0,480.00 L87.0,480.00 L88.0,480.00 L89.0,480.00 L90.0,480.00 L91.0,480.00 L92.0,480.00 L93.0,480.00 L94.0,480.00 L95.0,480.00 L96.0,480.00 L97.0,480.00 L98.0,480.00 L99.0,480.00 L100.0,480.00 L101.0,480.00 L102.0,480.00 L103.0,480.00 L104.0,480.00 L105.0,480.00 L106.0,480.00 L107.0,480.00 L108.0,480.00 L109.0,480.00 L110.0,480.00 L111.0,480.00 L112.0,480.00 L113.0,480.00 L114.0,480.00 L115.0,480.00 L116.0,480.00 L117.0,480.00 L118.0,480.00 L119.0,480.00 L120.0,480.00 L121.0,480.00 L122.0,480.00 L123.0,480.00 L124.0,480.00 L125.0,480.00 L126.0,480.00 L127.0,480.00 L128.0,480.00 L129.0,480.00 L130.0,480.00 L131.0,480.00 L132.0,480.00 L133.0,480.00 L134.0,480.00 L135.0,480.00 L136.0,480.00 L137.0,480.00 L138.0,480.00 L139.0,480.00 L140.0,480.00 L141.0,480.00 L142.0,480.00 L143.0,480.00 L144.0,480.00 L145.0,480.00 L146.0,480.00 L147.0,480.00 L148.0,480.00 L149.0,480.00 L150.0,480.00 L151.0,480.00 L152.0,480.00 L153.0,480.00 L154.0,480.00 L155.0,480.00 L156.0,480.00 L157.0,480.00 L158.0,480.00 L159.0,480.00 L160.0,480.00 L161.0,480.00 L162.0,480.00 L163.0,480.00 L164.0,480.00 L165.0,480.00 L166.0,480.00 L167.0,480.00 L168.0,480.00 L169.0,480.00 L170.0,480.00 L171.0,480.00 L172.0,480.00 L173.0,480.00 L174.0,480.00 L175.0,480.00 L176.0,480.00 L177.0,480.00 L178.0,480.00 L179.0,480.00 L180.0,480.00 L181.0,480.00 L182.0,480.00 L183.0,480.00 L184.0,480.00 L185.0,480.00 L186.0,480.00 L187.0,480.00 L188.0,480.00 L189.0,480.00 L190.0,480.00 L191.0,480.00 L192.0,480.00 L193.0,480.00 L194.0,480.00 L195.0,480.00 L196.0,480.00 L197.0,480.00 L198.0,480.00 L199.0,480.00 L200.0,480.00 L201.0,480.00 L202.0,480.00 L203.0,480.00 L204.0,480.00 L205.0,480.00 L206.0,480.00 L207.0,480.00 L208.0,480.00 L209.0,480.00 L210.0,480.00 L211.0,480.00 L212.0,480.00 L213.0,480.00 L214.0,480.00 L215.0,480.00 L216.0,480.00 L217.0,479.99 L218.0,479.93 L219.0,479.77 L220.0,479.46 L221.0,478.98 L222.0,478.29 L223.0,477.35 L224.0,476.15 L225.0,474.67 L226.0,472.89 L227.0,470.79 L228.0,468.38 L229.0,465.64 L230.0,462.57 L231.0,459.17 L232.0,455.45 L233.0,451.41 L234.0,447.06 L235.0,442.41 L236.0,437.47 L237.0,432.26 L238.0,426.79 L239.0,421.08 L240.0,415.15 L241.0,409.01 L242.0,402.70 L243.0,396.23 L244.0,389.61 L245.0,382.89 L246.0,376.08 L247.0,369.20 L248.0,362.28 L249.0,355.35 L250.0,348.42 L251.0,341.54 L252.0,334.71 L253.0,327.96 L254.0,321.32 L255.0,314.81 L256.0,308.46 L257.0,302.29 L258.0,296.31 L259.0,290.55 L260.0,285.04 L261.0,279.78 L262.0,274.80 L263.0,270.12 L264.0,265.75 L265.0,261.71 L266.0,258.01 L267.0,254.66 L268.0,251.68 L269.0,249.08 L270.0,246.86 L271.0,245.03 L272.0,243.61 L273.0,242.58 L274.0,241.97 L275.0,241.76 L276.0,241.93 L277.0,242.44 L278.0,243.28 L279.0,244.46 L280.0,245.97 L281.0,247.80 L282.0,249.96 L283.0,252.43 L284.0,255.20 L285.0,258.28 L286.0,261.65 L287.0,265.30 L288.0,269.22 L289.0,273.40 L290.0,277.83 L291.0,282.50 L292.0,287.38 L293.0,292.48 L294.0,297.76 L295.0,303.22 L296.0,308.85 L297.0,314.62 L298.0,320.51 L299.0,326.52 L300.0,332.62 L301.0,338.80 L302.0,345.03 L303.0,351.30 L304.0,357.59 L305.0,363.88 L306.0,370.15 L307.0,376.39 L308.0,382.58 L309.0,388.69 L310.0,394.71 L311.0,400.62 L312.0,406.41 L313.0,412.06 L314.0,417.55 L315.0,422.86 L316.0,427.99 L317.0,432.92 L318.0,437.63 L319.0,442.11 L320.0,446.36 L321.0,450.37 L322.0,454.12 L323.0,457.61 L324.0,460.83 L325.0,463.79 L326.0,466.47 L327.0,468.88 L328.0,471.03 L329.0,472.91 L330.0,474.54 L331.0,475.92 L332.0,477.06 L333.0,477.98 L334.0,478.70 L335.0,479.23 L336.0,479.60 L337.0,479.83 L338.0,479.95 L339.0,479.99 L340.0,480.00 L341.0,480.00 L342.0,480.00 L343.0,480.00 L344.0,480.00 L345.0,480.00 L346.0,480.00 L347.0,480.00 L348.0,480.00 L349.0,480.00 L350.0,480.00 L351.0,480.00 L352.0,480.00 L353.0,480.00 L354.0,480.00 L355.0,480.00 L356.0,480.00 L357.0,480.00 L358.0,480.00 L359.0,480.00 L360.0,480.00 L361.0,480.00 L362.0,480.00 L363.0,480.00 L364.0,480.00 L365.0,480.00 L366.0,480.00 L367.0,480.00 L368.0,480.00 L369.0,480.00 L370.0,480.00 L371.0,480.00 L372.0,480.00 L373.0,480.00 L374.0,480.00 L375.0,480.00 L376.0,480.00 L377.0,480.00 L378.0,480.00 L379.0,480.00 L380.0,480.00 L381.0,480.00 L382.0,480.00 L383.0,480.00 L384.0,480.00 L385.0,480.00 L386.0,480.00 L387.0,480.00 L388.0,480.00 L389.0,480.00 L390.0,480.00 L391.0,480.00 L392.0,480.00 L393.0,480.00 L394.0,480.00 L395.0,480.00 L396.0,480.00 L397.0,480.00 L398.0,480.00 L399.0,480.00 L400.0,480.00 L401.0,480.00 L402.0,480.00 L403.0,480.00 L404.0,480.00 L405.0,480.00 L406.0,480.00 L407.0,480.00 L408.0,480.00 L409.0,480.00 L410.0,480.00 L411.0,480.00 L412.0,480.00 L413.0,480.00 L414.0,480.00 L415.0,480.00 L416.0,480.00 L417.0,480.00 L418.0,480.00 L419.0,480.00 L420.0,480.00 L421.0,480.00 L422.0,480.00 L423.0,480.00 L424.0,480.00 L425.0,480.00 L426.0,480.00 L427.0,480.00 L428.0,480.00 L429.0,480.00 L430.0,480.00 L431.0,480.00 L432.0,480.00 L433.0,480.00 L434.0,480.00 L435.0,480.00 L436.0,480.00 L437.0,480.00 L438.0,480.00 L439.0,480.00 L440.0,480.00 L441.0,480.00 L442.0,480.00 L443.0,480.00 L444.0,480.00 L445.0,480.00 L446.0,480.00 L447.0,480.00 L448.0,480.00 L449.0,480.00 L450.0,480.00 L451.0,480.00 L452.0,480.00 L453.0,480.00 L454.0,480.00 L455.0,480.00 L456.0,480.00 L457.0,480.00 L458.0,480.00 L459.0,480.00 L460.0,480.00 L461.0,480.00 L462.0,480.00 L463.0,480.00 L464.0,480.00 L465.0,480.00 L466.0,480.00 L467.0,480.00 L468.0,480.00 L469.0,480.00 L470.0,480.00 L471.0,480.00 L472.0,480.00 L473.0,480.00 L474.0,480.00 L475.0,480.00 L476.0,480.00 L477.0,480.00 L478.0,480.00 L479.0,480.00 L480.0,480.00 L481.0,480.00 L482.0,480.00 L483.0,480.00 L484.0,480.00 L485.0,480.00 L486.0,480.00 L487.0,480.00 L488.0,480.00 L489.0,480.00 L490.0,480.00 L491.0,480.00 L492.0,480.00 L493.0,480.00 L494.0,480.00 L495.0,480.00 L496.0,480.00 L497.0,480.00 L498.0,480.00 L499.0,480.00 L500.0,480.00 L501.0,480.00 L502.0,480.00 L503.0,480.00 L504.0,480.00 L505.0,480.00 L506.0,480.00 L507.0,480.00 L508.0,480.00 L509.0,480.00 L510.0,480.00" fill="none" stroke="#7f7f7f" stroke-width="1.5" stroke-linejoin="round"/>
<path d="M70.0,480.00 L71.0,480.00 L72.0,480.00 L73.0,480.00 L74.0,480.00 L75.0,480.00 L76.0,480.00 L77.0,480.00 L78.0,480.00 L79.0,480.00 L80.0,480.00 L81.0,480.00 L82.0,480.00 L83.0,480.00 L84.0,480.00 L85.0,480.00 L86.0,480.00 L87.0,480.00 L88.0,480.00 L89.0,480.00 L90.0,480.00 L91.0,480.00 L92.0,480.00 L93.0,480.00 L94.0,480.00 L95.0,480.00 L96.0,480.00 L97.0,480.00 L98.0,480.00 L99.0,480.00 L100.0,480.00 L101.0,480.00 L102.0,480.00 L103.0,480.00 L104.0,480.00 L105.0,480.00 L106.0,480.00 L107.0,480.00 L108.0,480.00 L109.0,480.00 L110.0,480.00 L111.0,480.00 L112.0,480.00 L113.0,480.00 L114.0,480.00 L115.0,480.00 L116.0,480.00 L117.0,480.00 L118.0,480.00 L119.0,480.00 L120.0,480.00 L121.0,480.00 L122.0,480.00 L123.0,480.00 L124.0,480.00 L125.0,480.00 L126.0,480.00 L127.0,480.00 L128.0,480.00 L129.0,480.00 L130.0,480.00 L131.0,480.00 L132.0,480.00 L133.0,480.00 L134.0,480.00 L135.0,480.00 L136.0,480.00 L137.0,480.00 L138.0,480.00 L139.0,480.00 L140.0,480.00 L141.0,480.00 L142.0,480.00 L143.0,480.00 L144.0,480.00 L145.0,480.00 L146.0,480.00 L147.0,480.00 L148.0,480.00 L149.0,480.00 L150.0,480.00 L151.0,480.00 L152.0,480.00 L153.0,480.00 L154.0,480.00 L155.0,480.00 L156.0,480.00 L157.0,480.00 L158.0,480.00 L159.0,480.00 L160.0,480.00 L161.0,480.00 L162.0,480.00 L163.0,480.00 L164.0,480.00 L165.0,480.00 L166.0,480.00 L167.0,480.00 L168.0,480.00 L169.0,480.00 L170.0,480.00 L171.0,480.00 L172.0,480.00 L173.0,480.00 L174.0,480.00 L175.0,480.00 L176.0,480.00 L177.0,480.00 L178.0,480.00 L179.0,480.00 L180.0,480.00 L181.0,480.00 L182.0,480.00 L183.0,480.00 L184.0,480.00 L185.0,480.00 L186.0,480.00 L187.0,480.00 L188.0,480.00 L189.0,480.00 L190.0,480.00 L191.0,480.00 L192.0,480.00 L193.0,480.00 L194.0,480.00 L195.0,480.00 L196.0,480.00 L197.0,480.00 L198.0,480.00 L199.0,480.00 L200.0,480.00 L201.0,480.00 L202.0,480.00 L203.0,480.00 L204.0,480.00 L205.0,480.00 L206.0,480.00 L207.0,480.00 L208.0,480.00 L209.0,480.00 L210.0,480.00 L211.0,480.00 L212.0,480.00 L213.0,480.00 L214.0,480.00 L215.0,480.00 L216.0,480.00 L217.0,480.00 L218.0,480.00 L219.0,479.99 L220.0,479.93 L221.0,479.77 L222.0,479.46 L223.0,478.97 L224.0,478.26 L225.0,477.31 L226.0,476.09 L227.0,474.58 L228.0,472.77 L229.0,470.63 L230.0,468.17 L231.0,465.37 L232.0,462.24 L233.0,458.77 L234.0,454.96 L235.0,450.83 L236.0,446.37 L237.0,441.60 L238.0,436.53 L239.0,431.17 L240.0,425.54 L241.0,419.66 L242.0,413.54 L243.0,407.20 L244.0,400.67 L245.0,393.97 L246.0,387.11 L247.0,380.13 L248.0,373.04 L249.0,365.88 L250.0,358.66 L251.0,351.41 L252.0,344.15 L253.0,336.92 L254.0,329.73 L255.0,322.62 L256.0,315.60 L257.0,308.70 L258.0,301.94 L259.0,295.35 L260.0,288.95 L261.0,282.76 L262.0,276.80 L263.0,271.10 L264.0,265.67 L265.0,260.53 L266.0,255.70 L267.0,251.19 L268.0,247.02 L269.0,243.20 L270.0,239.76 L271.0,236.69 L272.0,234.00 L273.0,231.72 L274.0,229.84 L275.0,228.37 L276.0,227.32 L277.0,226.69 L278.0,226.47 L279.0,226.66 L280.0,227.22 L281.0,228.14 L282.0,229.43 L283.0,231.09 L284.0,233.10 L285.0,235.46 L286.0,238.17 L287.0,241.22 L288.0,244.59 L289.0,248.29 L290.0,252.28 L291.0,256.58 L292.0,261.16 L293.0,266.00 L294.0,271.10 L295.0,276.44 L296.0,282.00 L297.0,287.77 L298.0,293.73 L299.0,299.86 L300.0,306.15 L301.0,312.56 L302.0,319.09 L303.0,325.72 L304.0,332.42 L305.0,339.18 L306.0,345.97 L307.0,352.77 L308.0,359.56 L309.0,366.33 L310.0,373.04 L311.0,379.69 L312.0,386.25 L313.0,392.69 L314.0,399.01 L315.0,405.18 L316.0,411.19 L317.0,417.01 L318.0,422.63 L319.0,428.04 L320.0,433.21 L321.0,438.14 L322.0,442.82 L323.0,447.23 L324.0,451.36 L325.0,455.21 L326.0,458.77 L327.0,462.03 L328.0,465.00 L329.0,467.67 L330.0,470.05 L331.0,472.14 L332.0,473.94 L333.0,475.47 L334.0,476.74 L335.0,477.76 L336.0,478.55 L337.0,479.14 L338.0,479.55 L339.0,479.81 L340.0,479.94 L341.0,479.99 L342.0,480.00 L343.0,480.00 L344.0,480.00 L345.0,480.00 L346.0,480.00 L347.0,480.00 L348.0,480.00 L349.0,480.00 L350.0,480.00 L351.0,480.00 L352.0,480.00 L353.0,480.00 L354.0,480.00 L355.0,480.00 L356.0,480.00 L357.0,480.00 L358.0,480.00 L359.0,480.00 L360.0,480.00 L361.0,480.00 L362.0,480.00 L363.0,480.00 L364.0,480.00 L365.0,480.00 L366.0,480.00 L367.0,480.00 L368.0,480.00 L369.0,480.00 L370.0,480.00 L371.0,480.00 L372.0,480.00 L373.0,480.00 L374.0,480.00 L375.0,480.00 L376.0,480.00 L377.0,480.00 L378.0,480.00 L379.0,480.00 L380.0,480.00 L381.0,480.00 L382.0,480.00 L383.0,480.00 L384.0,480.00 L385.0,480.00 L386.0,480.00 L387.0,480.00 L388.0,480.00 L389.0,480.00 L390.0,480.00 L391.0,480.00 L392.0,480.00 L393.0,480.00 L394.0,480.00 L395.0,480.00 L396.0,480.00 L397.0,480.00 L398.0,480.00 L399.0,480.00 L400.0,480.00 L401.0,480.00 L402.0,480.00 L403.0,480.00 L404.0,480.00 L405.0,480.00 L406.0,480.00 L407.0,480.00 L408.0,480.00 L409.0,480.00 L410.0,480.00 L411.0,480.00 L412.0,480.00 L413.0,480.00 L414.0,480.00 L415.0,480.00 L416.0,480.00 L417.0,480.00 L418.0,480.00 L419.0,480.00 L420.0,480.00 L421.0,480.00 L422.0,480.00 L423.0,480.00 L424.0,480.00 L425.0,480.00 L426.0,480.00 L427.0,480.00 L428.0,480.00 L429.0,480.00 L430.0,480.00 L431.0,480.00 L432.0,480.00 L433.0,480.00 L434.0,480.00 L435.0,480.00 L436.0,480.00 L437.0,480.00 L438.0,480.00 L439.0,480.00 L440.0,480.00 L441.0,480.00 L442.0,480.00 L443.0,480.00 L444.0,480.00 L445.0,480.00 L446.0,480.00 L447.0,480.00 L448.0,480.00 L449.0,480.00 L450.0,480.00 L451.0,480.00 L452.0,480.00 L453.0,480.00 L454.0,480.00 L455.0,480.00 L456.0,480.00 L457.0,480.00 L458.0,480.00 L459.0,480.00 L460.0,480.00 L461.0,480.00 L462.0,480.00 L463.0,480.00 L464.0,480.00 L465.0,480.00 L466.0,480.00 L467.0,480.00 L468.0,480.00 L469.0,480.00 L470.0,480.00 L471.0,480.00 L472.0,480.00 L473.0,480.00 L474.0,480.00 L475.0,480.00 L476.0,480.00 L477.0,480.00 L478.0,480.00 L479.0,480.00 L480.0,480.00 L481.0,480.00 L482.0,480.00 L483.0,480.00 L484.0,480.00 L485.0,480.00 L486.0,480.00 L487.0,480.00 L488.0,480.00 L489.0,480.00 L490.0,480.00 L491.0,480.00 L492.0,480.00 L493.0,480.00 L494.0,480.00 L495.0,480.00 L496.0,480.00 L497.0,480.00 L498.0,480.00 L499.0,480.00 L500.0,480.00 L501.0,480.00 L502.0,480.00 L503.0,480.00 L504.0,480.00 L505.0,480.00 L506.0,480.00 L507.0,480.00 L508.0,480.00 L509.0,480.00 L510.0,480.00" fill="none" stroke="#595959" stroke-width="1.5" stroke-linejoin="round"/>
<path d="M70.0,480.00 L71.0,480.00 L72.0,480.00 L73.0,480.00 L74.0,480.00 L75.0,480.00 L76.0,480.00 L77.0,480.00 L78.0,480.00 L79.0,480.00 L80.0,480.00 L81.0,480.00 L82.0,480.00 L83.0,480.00 L84.0,480.00 L85.0,480.00 L86.0,480.00 L87.0,480.00 L88.0,480.00 L89.0,480.00 L90.0,480.00 L91.0,480.00 L92.0,480.00 L93.0,480.00 L94.0,480.00 L95.0,480.00 L96.0,480.00 L97.0,480.00 L98.0,480.00 L99.0,480.00 L100.0,480.00 L101.0,480.00 L102.0,480.00 L103.0,480.00 L104.0,480.00 L105.0,480.00 L106.0,480.00 L107.0,480.00 L108.0,480.00 L109.0,480.00 L110.0,480.00 L111.0,480.00 L112.0,480.00 L113.0,480.00 L114.0,480.00 L115.0,480.00 L116.0,480.00 L117.0,480.00 L118.0,480.00 L119.0,480.00 L120.0,480.00 L121.0,480.00 L122.0,480.00 L123.0,480.00 L124.0,480.00 L125.0,480.00 L126.0,480.00 L127.0,480.00 L128.0,480.00 L129.0,480.00 L130.0,480.00 L131.0,480.00 L132.0,480.00 L133.0,480.00 L134.0,480.00 L135.0,480.00 L136.0,480.00 L137.0,480.00 L138.0,480.00 L139.0,480.00 L140.0,480.00 L141.0,480.00 L142.0,480.00 L143.0,480.00 L144.0,480.00 L145.0,480.00 L146.0,480.00 L147.0,480.00 L148.0,480.00 L149.0,480.00 L150.0,480.00 L151.0,480.00 L152.0,480.00 L153.0,480.00 L154.0,480.00 L155.0,480.00 L156.0,480.00 L157.0,480.00 L158.0,480.00 L159.0,480.00 L160.0,480.00 L161.0,480.00 L162.0,480.00 L163.0,480.00 L164.0,480.00 L165.0,480.00 L166.0,480.00 L167.0,480.00 L168.0,480.00 L169.0,480.00 L170.0,480.00 L171.0,480.00 L172.0,480.00 L173.0,480.00 L174.0,480.00 L175.0,480.00 L176.0,480.00 L177.0,480.00 L178.0,480.00 L179.0,480.00 L180.0,480.00 L181.0,480.00 L182.0,480.00 L183.0,480.00 L184.0,480.00 L185.0,480.00 L186.0,480.00 L187.0,480.00 L188.0,480.00 L189.0,480.00 L190.0,480.00 L191.0,480.00 L192.0,480.00 L193.0,480.00 L194.0,480.00 L195.0,480.00 L196.0,480.00 L197.0,480.00 L198.0,480.00 L199.0,480.00 L200.0,480.00 L201.0,480.00 L202.0,480.00 L203.0,480.00 L204.0,480.00 L205.0,480.00 L206.0,480.00 L207.0,480.00 L208.0,480.00 L209.0,480.00 L210.0,479.99 L211.0,479.92 L212.0,479.73 L213.0,479.37 L214.0,478.81 L215.0,478.00 L216.0,476.92 L217.0,475.53 L218.0,473.82 L219.0,471.77 L220.0,469.37 L221.0,466.60 L222.0,463.48 L223.0,459.99 L224.0,456.14 L225.0,451.94 L226.0,447.40 L227.0,442.52 L228.0,437.33 L229.0,431.83 L230.0,426.06 L231.0,420.02 L232.0,413.75 L233.0,407.27 L234.0,400.59 L235.0,393.76 L236.0,386.79 L237.0,379.71 L238.0,372.56 L239.0,365.35 L240.0,358.13 L241.0,350.92 L242.0,343.74 L243.0,336.63 L244.0,329.62 L245.0,322.74 L246.0,316.00 L247.0,309.45 L248.0,303.10 L249.0,296.98 L250.0,291.12 L251.0,285.54 L252.0,280.26 L253.0,275.30 L254.0,270.68 L255.0,266.42 L256.0,262.54 L257.0,259.05 L258.0,255.97 L259.0,253.31 L260.0,251.07 L261.0,249.27 L262.0,247.91 L263.0,247.01 L264.0,246.55 L265.0,246.54 L266.0,246.88 L267.0,247.56 L268.0,248.58 L269.0,249.94 L270.0,251.63 L271.0,253.65 L272.0,255.98 L273.0,258.63 L274.0,261.59 L275.0,264.85 L276.0,268.39 L277.0,272.21 L278.0,276.30 L279.0,280.64 L280.0,285.22 L281.0,290.03 L282.0,295.05 L283.0,300.27 L284.0,305.68 L285.0,311.25 L286.0,316.96 L287.0,322.82 L288.0,328.78 L289.0,334.84 L290.0,340.98 L291.0,347.18 L292.0,353.42 L293.0,359.68 L294.0,365.95 L295.0,372.19 L296.0,378.40 L297.0,384.56 L298.0,390.64 L299.0,396.63 L300.0,402.51 L301.0,408.27 L302.0,413.88 L303.0,419.32 L304.0,424.60 L305.0,429.68 L306.0,434.55 L307.0,439.21 L308.0,443.63 L309.0,447.82 L310.0,451.75 L311.0,455.43 L312.0,458.84 L313.0,461.98 L314.0,464.85 L315.0,467.45 L316.0,469.77 L317.0,471.83 L318.0,473.62 L319.0,475.15 L320.0,476.44 L321.0,477.49 L322.0,478.33 L323.0,478.96 L324.0,479.42 L325.0,479.72 L326.0,479.90 L327.0,479.98 L328.0,480.00 L329.0,480.00 L330.0,480.00 L331.0,480.00 L332.0,480.00 L333.0,480.00 L334.0,480.00 L335.0,480.00 L336.0,480.00 L337.0,480.00 L338.0,480.00 L339.0,480.00 L340.0,480.00 L341.0,480.00 L342.0,480.00 L343.0,480.00 L344.0,480.00 L345.0,480.00 L346.0,480.00 L347.0,480.00 L348.0,480.00 L349.0,480.00 L350.0,480.00 L351.0,480.00 L352.0,480.00 L353.0,480.00 L354.0,480.00 L355.0,480.00 L356.0,480.00 L357.0,480.00 L358.0,480.00 L359.0,480.00 L360.0,480.00 L361.0,480.00 L362.0,480.00 L363.0,480.00 L364.0,480.00 L365.0,480.00 L366.0,480.00 L367.0,480.00 L368.0,480.00 L369.0,480.00 L370.0,480.00 L371.0,480.00 L372.0,480.00 L373.0,480.00 L374.0,480.00 L375.0,480.00 L376.0,480.00 L377.0,480.00 L378.0,480.00 L379.0,480.00 L380.0,480.00 L381.0,480.00 L382.0,480.00 L383.0,480.00 L384.0,480.00 L385.0,480.00 L386.0,480.00 L387.0,480.00 L388.0,480.00 L389.0,480.00 L390.0,480.00 L391.0,480.00 L392.0,480.00 L393.0,480.00 L394.0,480.00 L395.0,480.00 L396.0,480.00 L397.0,480.00 L398.0,480.00 L399.0,480.00 L400.0,480.00 L401.0,480.00 L402.0,480.00 L403.0,480.00 L404.0,480.00 L405.0,480.00 L406.0,480.00 L407.0,480.00 L408.0,480.00 L409.0,480.00 L410.0,480.00 L411.0,480.00 L412.0,480.00 L413.0,480.00 L414.0,480.00 L415.0,480.00 L416.0,480.00 L417.0,480.00 L418.0,480.00 L419.0,480.00 L420.0,480.00 L421.0,480.00 L422.0,480.00 L423.0,480.00 L424.0,480.00 L425.0,480.00 L426.0,480.00 L427.0,480.00 L428.0,480.00 L429.0,480.00 L430.0,480.00 L431.0,480.00 L432.0,480.00 L433.0,480.00 L434.0,480.00 L435.0,480.00 L436.0,480.00 L437.0,480.00 L438.0,480.00 L439.0,480.00 L440.0,480.00 L441.0,480.00 L442.0,480.00 L443.0,480.00 L444.0,480.00 L445.0,480.00 L446.0,480.00 L447.0,480.00 L448.0,480.00 L449.0,480.00 L450.0,480.00 L451.0,480.00 L452.0,480.00 L453.0,480.00 L454.0,480.00 L455.0,480.00 L456.0,480.00 L457.0,480.00 L458.0,480.00 L459.0,480.00 L460.0,480.00 L461.0,480.00 L462.0,480.00 L463.0,480.00 L464.0,480.00 L465.0,480.00 L466.0,480.00 L467.0,480.00 L468.0,480.00 L469.0,480.00 L470.0,480.00 L471.0,480.00 L472.0,480.00 L473.0,480.00 L474.0,480.00 L475.0,480.00 L476.0,480.00 L477.0,480.00 L478.0,480.00 L479.0,480.00 L480.0,480.00 L481.0,480.00 L482.0,480.00 L483.0,480.00 L484.0,480.00 L485.0,480.00 L486.0,480.00 L487.0,480.00 L488.0,480.00 L489.0,480.00 L490.0,480.00 L491.0,480.00 L492.0,480.00 L493.0,480.00 L494.0,480.00 L495.0,480.00 L496.0,480.00 L497.0,480.00 L498.0,480.00 L499.0,480.00 L500.0,480.00 L501.0,480.00 L502.0,480.00 L503.0,480.00 L504.0,480.00 L505.0,480.00 L506.0,480.00 L507.0,480.00 L508.0,480.00 L509.0,480.00 L510.0,480.00" fill="none" stroke="#000" stroke-width="1.9" stroke-dasharray="4.2,1.85" stroke-linejoin="round"/>
<path d="M70.0,480.00 L71.0,480.00 L72.0,480.00 L73.0,480.00 L74.0,480.00 L75.0,480.00 L76.0,480.00 L77.0,480.00 L78.0,480.00 L79.0,480.00 L80.0,480.00 L81.0,480.00 L82.0,480.00 L83.0,480.00 L84.0,480.00 L85.0,480.00 L86.0,480.00 L87.0,480.00 L88.0,480.00 L89.0,480.00 L90.0,480.00 L91.0,480.00 L92.0,480.00 L93.0,480.00 L94.0,480.00 L95.0,480.00 L96.0,480.00 L97.0,480.00 L98.0,480.00 L99.0,480.00 L100.0,480.00 L101.0,480.00 L102.0,480.00 L103.0,480.00 L104.0,480.00 L105.0,480.00 L106.0,480.00 L107.0,480.00 L108.0,480.00 L109.0,480.00 L110.0,480.00 L111.0,480.00 L112.0,480.00 L113.0,480.00 L114.0,480.00 L115.0,480.00 L116.0,480.00 L117.0,480.00 L118.0,480.00 L119.0,480.00 L120.0,480.00 L121.0,480.00 L122.0,480.00 L123.0,480.00 L124.0,480.00 L125.0,480.00 L126.0,480.00 L127.0,480.00 L128.0,480.00 L129.0,480.00 L130.0,480.00 L131.0,480.00 L132.0,480.00 L133.0,480.00 L134.0,480.00 L135.0,480.00 L136.0,480.00 L137.0,480.00 L138.0,480.00 L139.0,480.00 L140.0,480.00 L141.0,480.00 L142.0,480.00 L143.0,480.00 L144.0,480.00 L145.0,480.00 L146.0,480.00 L147.0,480.00 L148.0,480.00 L149.0,480.00 L150.0,480.00 L151.0,480.00 L152.0,480.00 L153.0,480.00 L154.0,480.00 L155.0,480.00 L156.0,480.00 L157.0,480.00 L158.0,480.00 L159.0,480.00 L160.0,480.00 L161.0,480.00 L162.0,480.00 L163.0,480.00 L164.0,480.00 L165.0,480.00 L166.0,480.00 L167.0,480.00 L168.0,480.00 L169.0,480.00 L170.0,480.00 L171.0,480.00 L172.0,480.00 L173.0,480.00 L174.0,480.00 L175.0,480.00 L176.0,480.00 L177.0,480.00 L178.0,480.00 L179.0,480.00 L180.0,480.00 L181.0,480.00 L182.0,480.00 L183.0,480.00 L184.0,480.00 L185.0,480.00 L186.0,480.00 L187.0,480.00 L188.0,480.00 L189.0,480.00 L190.0,480.00 L191.0,480.00 L192.0,480.00 L193.0,480.00 L194.0,480.00 L195.0,480.00 L196.0,480.00 L197.0,480.00 L198.0,480.00 L199.0,480.00 L200.0,480.00 L201.0,480.00 L202.0,480.00 L203.0,480.00 L204.0,480.00 L205.0,480.00 L206.0,480.00 L207.0,480.00 L208.0,480.00 L209.0,480.00 L210.0,480.00 L211.0,480.00 L212.0,480.00 L213.0,480.00 L214.0,480.00 L215.0,480.00 L216.0,480.00 L217.0,480.00 L218.0,480.00 L219.0,480.00 L220.0,480.00 L221.0,480.00 L222.0,480.00 L223.0,480.00 L224.0,480.00 L225.0,480.00 L226.0,480.00 L227.0,480.00 L228.0,480.00 L229.0,480.00 L230.0,480.00 L231.0,480.00 L232.0,480.00 L233.0,480.00 L234.0,480.00 L235.0,480.00 L236.0,479.97 L237.0,479.85 L238.0,479.55 L239.0,479.02 L240.0,478.19 L241.0,477.02 L242.0,475.48 L243.0,473.53 L244.0,471.15 L245.0,468.32 L246.0,465.03 L247.0,461.28 L248.0,457.06 L249.0,452.38 L250.0,447.26 L251.0,441.69 L252.0,435.72 L253.0,429.34 L254.0,422.60 L255.0,415.52 L256.0,408.12 L257.0,400.44 L258.0,392.52 L259.0,384.39 L260.0,376.09 L261.0,367.66 L262.0,359.13 L263.0,350.55 L264.0,341.96 L265.0,333.40 L266.0,324.90 L267.0,316.51 L268.0,308.26 L269.0,300.20 L270.0,292.37 L271.0,284.79 L272.0,277.50 L273.0,270.55 L274.0,263.95 L275.0,257.74 L276.0,251.95 L277.0,246.61 L278.0,241.73 L279.0,237.35 L280.0,233.48 L281.0,230.13 L282.0,227.33 L283.0,225.09 L284.0,223.41 L285.0,222.31 L286.0,221.79 L287.0,221.83 L288.0,222.38 L289.0,223.43 L290.0,224.98 L291.0,227.01 L292.0,229.52 L293.0,232.51 L294.0,235.95 L295.0,239.84 L296.0,244.16 L297.0,248.89 L298.0,254.02 L299.0,259.52 L300.0,265.38 L301.0,271.57 L302.0,278.06 L303.0,284.83 L304.0,291.86 L305.0,299.11 L306.0,306.55 L307.0,314.17 L308.0,321.91 L309.0,329.77 L310.0,337.69 L311.0,345.66 L312.0,353.63 L313.0,361.58 L314.0,369.48 L315.0,377.29 L316.0,384.97 L317.0,392.51 L318.0,399.87 L319.0,407.02 L320.0,413.94 L321.0,420.59 L322.0,426.95 L323.0,433.00 L324.0,438.73 L325.0,444.10 L326.0,449.11 L327.0,453.73 L328.0,457.97 L329.0,461.81 L330.0,465.25 L331.0,468.29 L332.0,470.94 L333.0,473.20 L334.0,475.08 L335.0,476.61 L336.0,477.80 L337.0,478.69 L338.0,479.31 L339.0,479.70 L340.0,479.91 L341.0,479.99 L342.0,480.00 L343.0,480.00 L344.0,480.00 L345.0,480.00 L346.0,480.00 L347.0,480.00 L348.0,480.00 L349.0,480.00 L350.0,480.00 L351.0,480.00 L352.0,480.00 L353.0,480.00 L354.0,480.00 L355.0,480.00 L356.0,480.00 L357.0,480.00 L358.0,480.00 L359.0,480.00 L360.0,480.00 L361.0,480.00 L362.0,480.00 L363.0,480.00 L364.0,480.00 L365.0,480.00 L366.0,480.00 L367.0,480.00 L368.0,480.00 L369.0,480.00 L370.0,480.00 L371.0,480.00 L372.0,480.00 L373.0,480.00 L374.0,480.00 L375.0,480.00 L376.0,480.00 L377.0,480.00 L378.0,480.00 L379.0,480.00 L380.0,480.00 L381.0,480.00 L382.0,480.00 L383.0,480.00 L384.0,480.00 L385.0,480.00 L386.0,480.00 L387.0,480.00 L388.0,480.00 L389.0,480.00 L390.0,480.00 L391.0,480.00 L392.0,480.00 L393.0,480.00 L394.0,480.00 L395.0,480.00 L396.0,480.00 L397.0,480.00 L398.0,480.00 L399.0,480.00 L400.0,480.00 L401.0,480.00 L402.0,480.00 L403.0,480.00 L404.0,480.00 L405.0,480.00 L406.0,480.00 L407.0,480.00 L408.0,480.00 L409.0,480.00 L410.0,480.00 L411.0,480.00 L412.0,480.00 L413.0,480.00 L414.0,480.00 L415.0,480.00 L416.0,480.00 L417.0,480.00 L418.0,480.00 L419.0,480.00 L420.0,480.00 L421.0,480.00 L422.0,480.00 L423.0,480.00 L424.0,480.00 L425.0,480.00 L426.0,480.00 L427.0,480.00 L428.0,480.00 L429.0,480.00 L430.0,480.00 L431.0,480.00 L432.0,480.00 L433.0,480.00 L434.0,480.00 L435.0,480.00 L436.0,480.00 L437.0,480.00 L438.0,480.00 L439.0,480.00 L440.0,480.00 L441.0,480.00 L442.0,480.00 L443.0,480.00 L444.0,480.00 L445.0,480.00 L446.0,480.00 L447.0,480.00 L448.0,480.00 L449.0,480.00 L450.0,480.00 L451.0,480.00 L452.0,480.00 L453.0,480.00 L454.0,480.00 L455.0,480.00 L456.0,480.00 L457.0,480.00 L458.0,480.00 L459.0,480.00 L460.0,480.00 L461.0,480.00 L462.0,480.00 L463.0,480.00 L464.0,480.00 L465.0,480.00 L466.0,480.00 L467.0,480.00 L468.0,480.00 L469.0,480.00 L470.0,480.00 L471.0,480.00 L472.0,480.00 L473.0,480.00 L474.0,480.00 L475.0,480.00 L476.0,480.00 L477.0,480.00 L478.0,480.00 L479.0,480.00 L480.0,480.00 L481.0,480.00 L482.0,480.00 L483.0,480.00 L484.0,480.00 L485.0,480.00 L486.0,480.00 L487.0,480.00 L488.0,480.00 L489.0,480.00 L490.0,480.00 L491.0,480.00 L492.0,480.00 L493.0,480.00 L494.0,480.00 L495.0,480.00 L496.0,480.00 L497.0,480.00 L498.0,480.00 L499.0,480.00 L500.0,480.00 L501.0,480.00 L502.0,480.00 L503.0,480.00 L504.0,480.00 L505.0,480.00 L506.0,480.00 L507.0,480.00 L508.0,480.00 L509.0,480.00 L510.0,480.00" fill="none" stroke="#000" stroke-width="1.8" stroke-dasharray="11.6,4.4" stroke-linejoin="round"/>
<path d="M70.0,480.00 L70.5,480.00 L71.0,480.00 L71.5,480.00 L72.0,480.00 L72.5,480.00 L73.0,480.00 L73.5,480.00 L74.0,480.00 L74.5,480.00 L75.0,480.00 L75.5,480.00 L76.0,480.00 L76.5,480.00 L77.0,480.00 L77.5,480.00 L78.0,480.00 L78.5,480.00 L79.0,480.00 L79.5,480.00 L80.0,480.00 L80.5,480.00 L81.0,480.00 L81.5,480.00 L82.0,480.00 L82.5,480.00 L83.0,480.00 L83.5,480.00 L84.0,480.00 L84.5,480.00 L85.0,480.00 L85.5,480.00 L86.0,480.00 L86.5,480.00 L87.0,480.00 L87.5,480.00 L88.0,480.00 L88.5,480.00 L89.0,480.00 L89.5,480.00 L90.0,480.00 L90.5,480.00 L91.0,480.00 L91.5,480.00 L92.0,480.00 L92.5,480.00 L93.0,480.00 L93.5,480.00 L94.0,480.00 L94.5,480.00 L95.0,480.00 L95.5,480.00 L96.0,480.00 L96.5,480.00 L97.0,480.00 L97.5,480.00 L98.0,480.00 L98.5,480.00 L99.0,480.00 L99.5,480.00 L100.0,480.00 L100.5,480.00 L101.0,480.00 L101.5,480.00 L102.0,480.00 L102.5,480.00 L103.0,480.00 L103.5,480.00 L104.0,480.00 L104.5,480.00 L105.0,480.00 L105.5,480.00 L106.0,480.00 L106.5,480.00 L107.0,480.00 L107.5,480.00 L108.0,480.00 L108.5,480.00 L109.0,480.00 L109.5,480.00 L110.0,480.00 L110.5,480.00 L111.0,480.00 L111.5,480.00 L112.0,480.00 L112.5,480.00 L113.0,480.00 L113.5,480.00 L114.0,480.00 L114.5,480.00 L115.0,480.00 L115.5,480.00 L116.0,480.00 L116.5,480.00 L117.0,480.00 L117.5,480.00 L118.0,480.00 L118.5,480.00 L119.0,480.00 L119.5,480.00 L120.0,480.00 L120.5,480.00 L121.0,480.00 L121.5,480.00 L122.0,480.00 L122.5,480.00 L123.0,480.00 L123.5,480.00 L124.0,480.00 L124.5,480.00 L125.0,480.00 L125.5,480.00 L126.0,480.00 L126.5,480.00 L127.0,480.00 L127.5,480.00 L128.0,480.00 L128.5,480.00 L129.0,480.00 L129.5,480.00 L130.0,480.00 L130.5,480.00 L131.0,480.00 L131.5,480.00 L132.0,480.00 L132.5,480.00 L133.0,480.00 L133.5,480.00 L134.0,480.00 L134.5,480.00 L135.0,480.00 L135.5,480.00 L136.0,480.00 L136.5,480.00 L137.0,480.00 L137.5,480.00 L138.0,480.00 L138.5,480.00 L139.0,480.00 L139.5,480.00 L140.0,480.00 L140.5,480.00 L141.0,480.00 L141.5,480.00 L142.0,480.00 L142.5,480.00 L143.0,480.00 L143.5,480.00 L144.0,480.00 L144.5,480.00 L145.0,480.00 L145.5,480.00 L146.0,480.00 L146.5,480.00 L147.0,480.00 L147.5,480.00 L148.0,480.00 L148.5,480.00 L149.0,479.99 L149.5,479.99 L150.0,479.99 L150.5,479.99 L151.0,479.99 L151.5,479.98 L152.0,479.98 L152.5,479.97 L153.0,479.96 L153.5,479.95 L154.0,479.94 L154.5,479.93 L155.0,479.92 L155.5,479.90 L156.0,479.87 L156.5,479.85 L157.0,479.82 L157.5,479.78 L158.0,479.74 L158.5,479.69 L159.0,479.64 L159.5,479.57 L160.0,479.50 L160.5,479.41 L161.0,479.32 L161.5,479.21 L162.0,479.10 L162.5,478.97 L163.0,478.82 L163.5,478.66 L164.0,478.49 L164.5,478.30 L165.0,478.09 L165.5,477.87 L166.0,477.64 L166.5,477.39 L167.0,477.13 L167.5,476.86 L168.0,476.57 L168.5,476.28 L169.0,475.98 L169.5,475.67 L170.0,475.36 L170.5,475.06 L171.0,474.75 L171.5,474.45 L172.0,474.16 L172.5,473.88 L173.0,473.62 L173.5,473.37 L174.0,473.14 L174.5,472.94 L175.0,472.77 L175.5,472.62 L176.0,472.51 L176.5,472.42 L177.0,472.37 L177.5,472.36 L178.0,472.36 L178.5,472.37 L179.0,472.39 L179.5,472.42 L180.0,472.46 L180.5,472.51 L181.0,472.56 L181.5,472.62 L182.0,472.69 L182.5,472.77 L183.0,472.85 L183.5,472.94 L184.0,473.04 L184.5,473.14 L185.0,473.25 L185.5,473.37 L186.0,473.49 L186.5,473.62 L187.0,473.75 L187.5,473.88 L188.0,474.02 L188.5,474.16 L189.0,474.30 L189.5,474.45 L190.0,474.60 L190.5,474.75 L191.0,474.90 L191.5,475.06 L192.0,475.21 L192.5,475.36 L193.0,475.52 L193.5,475.67 L194.0,475.82 L194.5,475.97 L195.0,476.10 L195.5,476.22 L196.0,476.31 L196.5,476.39 L197.0,476.44 L197.5,476.46 L198.0,476.45 L198.5,476.41 L199.0,476.33 L199.5,476.21 L200.0,476.05 L200.5,475.85 L201.0,475.60 L201.5,475.30 L202.0,474.96 L202.5,474.56 L203.0,474.11 L203.5,473.61 L204.0,473.06 L204.5,472.45 L205.0,471.79 L205.5,471.07 L206.0,470.30 L206.5,469.46 L207.0,468.57 L207.5,467.63 L208.0,466.62 L208.5,465.56 L209.0,464.44 L209.5,463.26 L210.0,462.03 L210.5,460.74 L211.0,459.39 L211.5,457.99 L212.0,456.54 L212.5,455.03 L213.0,453.46 L213.5,451.85 L214.0,450.18 L214.5,448.46 L215.0,446.69 L215.5,444.88 L216.0,443.01 L216.5,441.10 L217.0,439.15 L217.5,437.15 L218.0,435.11 L218.5,433.03 L219.0,430.92 L219.5,428.76 L220.0,426.57 L220.5,424.34 L221.0,422.08 L221.5,419.79 L222.0,417.47 L222.5,415.12 L223.0,412.74 L223.5,410.34 L224.0,407.92 L224.5,405.48 L225.0,403.02 L225.5,400.54 L226.0,398.04 L226.5,395.53 L227.0,393.01 L227.5,390.48 L228.0,387.94 L228.5,385.39 L229.0,382.84 L229.5,380.28 L230.0,377.73 L230.5,375.17 L231.0,372.62 L231.5,370.08 L232.0,367.54 L232.5,365.00 L233.0,362.48 L233.5,359.97 L234.0,357.48 L234.5,355.00 L235.0,352.53 L235.5,350.09 L236.0,347.67 L236.5,345.27 L237.0,342.89 L237.5,340.54 L238.0,338.22 L238.5,335.92 L239.0,333.66 L239.5,331.43 L240.0,329.24 L240.5,327.08 L241.0,324.96 L241.5,322.87 L242.0,320.83 L242.5,318.83 L243.0,316.87 L243.5,314.95 L244.0,313.09 L244.5,311.27 L245.0,309.49 L245.5,307.77 L246.0,306.10 L246.5,304.48 L247.0,302.91 L247.5,301.39 L248.0,299.94 L248.5,298.53 L249.0,297.19 L249.5,295.90 L250.0,294.68 L250.5,293.51 L251.0,292.40 L251.5,291.36 L252.0,290.37 L252.5,289.45 L253.0,288.60 L253.5,287.81 L254.0,287.08 L254.5,286.42 L255.0,285.82 L255.5,285.29 L256.0,284.82 L256.5,284.43 L257.0,284.09 L257.5,283.83 L258.0,283.63 L258.5,283.51 L259.0,283.45 L259.5,283.45 L260.0,283.52 L260.5,283.64 L261.0,283.82 L261.5,284.07 L262.0,284.37 L262.5,284.73 L263.0,285.15 L263.5,285.63 L264.0,286.16 L264.5,286.75 L265.0,287.40 L265.5,288.11 L266.0,288.88 L266.5,289.69 L267.0,290.57 L267.5,291.50 L268.0,292.49 L268.5,293.52 L269.0,294.62 L269.5,295.76 L270.0,296.96 L270.5,298.20 L271.0,299.50 L271.5,300.85 L272.0,302.24 L272.5,303.69 L273.0,305.18 L273.5,306.72 L274.0,308.30 L274.5,309.93 L275.0,311.60 L275.5,313.31 L276.0,315.06 L276.5,316.85 L277.0,318.69 L277.5,320.56 L278.0,322.46 L278.5,324.40 L279.0,326.38 L279.5,328.39 L280.0,330.43 L280.5,332.50 L281.0,334.60 L281.5,336.73 L282.0,338.89 L282.5,341.07 L283.0,343.28 L283.5,345.50 L284.0,347.75 L284.5,350.02 L285.0,352.31 L285.5,354.61 L286.0,356.93 L286.5,359.27 L287.0,361.61 L287.5,363.97 L288.0,366.34 L288.5,368.71 L289.0,371.10 L289.5,373.48 L290.0,375.87 L290.5,378.27 L291.0,380.66 L291.5,383.05 L292.0,385.44 L292.5,387.83 L293.0,390.21 L293.5,392.59 L294.0,394.95 L294.5,397.31 L295.0,399.66 L295.5,401.99 L296.0,404.31 L296.5,406.61 L297.0,408.90 L297.5,411.16 L298.0,413.41 L298.5,415.64 L299.0,417.84 L299.5,420.02 L300.0,422.18 L300.5,424.30 L301.0,426.40 L301.5,428.47 L302.0,430.51 L302.5,432.52 L303.0,434.50 L303.5,436.44 L304.0,438.35 L304.5,440.22 L305.0,442.05 L305.5,443.85 L306.0,445.60 L306.5,447.32 L307.0,449.00 L307.5,450.63 L308.0,452.22 L308.5,453.77 L309.0,455.28 L309.5,456.74 L310.0,458.16 L310.5,459.53 L311.0,460.85 L311.5,462.13 L312.0,463.36 L312.5,464.54 L313.0,465.68 L313.5,466.77 L314.0,467.81 L314.5,468.81 L315.0,469.75 L315.5,470.65 L316.0,471.51 L316.5,472.31 L317.0,473.07 L317.5,473.79 L318.0,474.46 L318.5,475.08 L319.0,475.66 L319.5,476.20 L320.0,476.69 L320.5,477.15 L321.0,477.56 L321.5,477.93 L322.0,478.27 L322.5,478.57 L323.0,478.83 L323.5,479.07 L324.0,479.27 L324.5,479.44 L325.0,479.58 L325.5,479.70 L326.0,479.79 L326.5,479.86 L327.0,479.92 L327.5,479.95 L328.0,479.98 L328.5,479.99 L329.0,480.00 L329.5,480.00 L330.0,480.00 L330.5,480.00 L331.0,480.00 L331.5,480.00 L332.0,480.00 L332.5,480.00 L333.0,480.00 L333.5,480.00 L334.0,480.00 L334.5,480.00 L335.0,480.00 L335.5,480.00 L336.0,480.00 L336.5,480.00 L337.0,480.00 L337.5,480.00 L338.0,480.00 L338.5,480.00 L339.0,480.00 L339.5,480.00 L340.0,480.00 L340.5,480.00 L341.0,480.00 L341.5,480.00 L342.0,480.00 L342.5,480.00 L343.0,480.00 L343.5,480.00 L344.0,480.00 L344.5,480.00 L345.0,480.00 L345.5,480.00 L346.0,480.00 L346.5,480.00 L347.0,480.00 L347.5,480.00 L348.0,480.00 L348.5,480.00 L349.0,480.00 L349.5,480.00 L350.0,480.00 L350.5,480.00 L351.0,480.00 L351.5,480.00 L352.0,480.00 L352.5,480.00 L353.0,480.00 L353.5,480.00 L354.0,480.00 L354.5,480.00 L355.0,480.00 L355.5,480.00 L356.0,480.00 L356.5,480.00 L357.0,480.00 L357.5,480.00 L358.0,480.00 L358.5,480.00 L359.0,480.00 L359.5,480.00 L360.0,480.00 L360.5,480.00 L361.0,480.00 L361.5,480.00 L362.0,480.00 L362.5,480.00 L363.0,480.00 L363.5,480.00 L364.0,480.00 L364.5,480.00 L365.0,480.00 L365.5,480.00 L366.0,480.00 L366.5,480.00 L367.0,480.00 L367.5,480.00 L368.0,480.00 L368.5,480.00 L369.0,480.00 L369.5,480.00 L370.0,480.00 L370.5,480.00 L371.0,480.00 L371.5,480.00 L372.0,480.00 L372.5,480.00 L373.0,480.00 L373.5,480.00 L374.0,480.00 L374.5,480.00 L375.0,480.00 L375.5,480.00 L376.0,480.00 L376.5,480.00 L377.0,480.00 L377.5,480.00 L378.0,480.00 L378.5,480.00 L379.0,480.00 L379.5,480.00 L380.0,480.00 L380.5,480.00 L381.0,480.00 L381.5,480.00 L382.0,480.00 L382.5,480.00 L383.0,480.00 L383.5,480.00 L384.0,480.00 L384.5,480.00 L385.0,480.00 L385.5,480.00 L386.0,480.00 L386.5,480.00 L387.0,480.00 L387.5,480.00 L388.0,480.00 L388.5,480.00 L389.0,480.00 L389.5,480.00 L390.0,480.00 L390.5,480.00 L391.0,480.00 L391.5,480.00 L392.0,480.00 L392.5,480.00 L393.0,480.00 L393.5,480.00 L394.0,480.00 L394.5,480.00 L395.0,480.00 L395.5,480.00 L396.0,480.00 L396.5,480.00 L397.0,480.00 L397.5,480.00 L398.0,480.00 L398.5,480.00 L399.0,480.00 L399.5,480.00 L400.0,480.00 L400.5,480.00 L401.0,480.00 L401.5,480.00 L402.0,480.00 L402.5,480.00 L403.0,480.00 L403.5,480.00 L404.0,480.00 L404.5,480.00 L405.0,480.00 L405.5,480.00 L406.0,480.00 L406.5,480.00 L407.0,480.00 L407.5,480.00 L408.0,480.00 L408.5,480.00 L409.0,480.00 L409.5,480.00 L410.0,480.00 L410.5,480.00 L411.0,480.00 L411.5,480.00 L412.0,480.00 L412.5,480.00 L413.0,480.00 L413.5,480.00 L414.0,480.00 L414.5,480.00 L415.0,480.00 L415.5,480.00 L416.0,480.00 L416.5,480.00 L417.0,480.00 L417.5,480.00 L418.0,480.00 L418.5,480.00 L419.0,480.00 L419.5,480.00 L420.0,480.00 L420.5,480.00 L421.0,480.00 L421.5,480.00 L422.0,480.00 L422.5,480.00 L423.0,480.00 L423.5,480.00 L424.0,480.00 L424.5,480.00 L425.0,480.00 L425.5,480.00 L426.0,480.00 L426.5,480.00 L427.0,480.00 L427.5,480.00 L428.0,480.00 L428.5,480.00 L429.0,480.00 L429.5,480.00 L430.0,480.00 L430.5,480.00 L431.0,480.00 L431.5,480.00 L432.0,480.00 L432.5,480.00 L433.0,480.00 L433.5,480.00 L434.0,480.00 L434.5,480.00 L435.0,480.00 L435.5,480.00 L436.0,480.00 L436.5,480.00 L437.0,480.00 L437.5,480.00 L438.0,480.00 L438.5,479.95 L439.0,479.90 L439.5,479.84 L440.0,479.79 L440.5,479.74 L441.0,479.69 L441.5,479.64 L442.0,479.58 L442.5,479.53 L443.0,479.48 L443.5,479.43 L444.0,479.38 L444.5,479.32 L445.0,479.27 L445.5,479.13 L446.0,478.99 L446.5,478.84 L447.0,478.70 L447.5,478.56 L448.0,478.41 L448.5,478.27 L449.0,478.13 L449.5,477.99 L450.0,477.84 L450.5,477.70 L451.0,477.56 L451.5,477.41 L452.0,477.27 L452.5,477.11 L453.0,476.94 L453.5,476.78 L454.0,476.61 L454.5,476.45 L455.0,476.29 L455.5,476.12 L456.0,475.96 L456.5,475.80 L457.0,475.63 L457.5,475.47 L458.0,475.30 L458.5,475.14 L459.0,474.98 L459.5,474.81 L460.0,474.65 L460.5,474.49 L461.0,474.32 L461.5,474.16 L462.0,473.99 L462.5,473.84 L463.0,473.68 L463.5,473.53 L464.0,473.38 L464.5,473.22 L465.0,473.07 L465.5,472.91 L466.0,472.76 L466.5,472.60 L467.0,472.45 L467.5,472.29 L468.0,472.14 L468.5,471.98 L469.0,471.83 L469.5,471.67 L470.0,471.52 L470.5,471.36 L471.0,471.21 L471.5,471.05 L472.0,470.90 L472.5,470.73 L473.0,470.57 L473.5,470.40 L474.0,470.23 L474.5,470.07 L475.0,469.90 L475.5,469.73 L476.0,469.57 L476.5,469.40 L477.0,469.23 L477.5,469.06 L478.0,468.90 L478.5,468.79 L479.0,468.68 L479.5,468.57 L480.0,468.46 L480.5,468.35 L481.0,468.62 L481.5,468.90 L482.0,469.17 L482.5,469.44 L483.0,470.28 L483.5,471.12 L484.0,471.96 L484.5,472.79 L485.0,473.63 L485.5,474.61 L486.0,475.60 L486.5,476.58 L487.0,477.56 L487.5,478.54 L488.0,478.91 L488.5,479.27 L489.0,479.64 L489.5,480.00 L490.0,480.00 L490.5,480.00 L491.0,480.00 L491.5,480.00 L492.0,480.00 L492.5,480.00 L493.0,480.00 L493.5,480.00 L494.0,480.00 L494.5,480.00 L495.0,480.00 L495.5,480.00 L496.0,480.00 L496.5,480.00 L497.0,480.00 L497.5,480.00 L498.0,480.00 L498.5,480.00 L499.0,480.00 L499.5,480.00 L500.0,480.00 L500.5,480.00 L501.0,480.00 L501.5,480.00 L502.0,480.00 L502.5,480.00 L503.0,480.00 L503.5,480.00 L504.0,480.00 L504.5,480.00 L505.0,480.00 L505.5,480.00 L506.0,480.00 L506.5,480.00 L507.0,480.00 L507.5,480.00 L508.0,480.00 L508.5,480.00 L509.0,480.00 L509.5,480.00 L510.0,480.00" fill="none" stroke="#1a76cc" stroke-width="1.75" stroke-linejoin="round"/>
<text x="80.6" y="373.2" fill="#1a76cc" textLength="131.6" lengthAdjust="spacingAndGlyphs">48.1 (0.24) | pre-HT</text>
<path d="M209,380.2L220.4,389.4M215.2,388.9L220.4,389.4L218.7,384.5" fill="none" stroke="#1a76cc" stroke-width="1.1"/>
<!-- legend -->
<text x="414.5" y="223"><tspan font-style="italic">d</tspan><tspan font-style="italic" font-size="10" dy="3.5">H</tspan></text>
<text x="440" y="223" textLength="30" lengthAdjust="spacingAndGlyphs">(PdI)</text>
<text x="479.5" y="223">|</text>
<text x="489" y="223" font-weight="bold" textLength="18" lengthAdjust="spacingAndGlyphs">HT</text>
<text x="511.5" y="223" textLength="17.5" lengthAdjust="spacingAndGlyphs">(h)</text>
<path d="M353.5,245.8H396" stroke="#000" stroke-width="1.9" stroke-dasharray="4.2,1.85"/>
<text x="405" y="250.60000000000002" fill="#000" textLength="92.7" lengthAdjust="spacingAndGlyphs">56.1 (0.15) | 1</text>
<path d="M353.5,275.9H396" stroke="#bfbfbf" stroke-width="1.5"/>
<text x="405" y="280.7" fill="#b2b2b2" textLength="92.7" lengthAdjust="spacingAndGlyphs">63.2 (0.15) | 2</text>
<path d="M353.5,306.1H396" stroke="#a6a6a6" stroke-width="1.5"/>
<text x="405" y="310.90000000000003" fill="#9a9a9a" textLength="92.7" lengthAdjust="spacingAndGlyphs">67.3 (0.18) | 4</text>
<path d="M353.5,336.2H396" stroke="#7f7f7f" stroke-width="1.5"/>
<text x="405" y="341.0" fill="#7c7c7c" textLength="92.7" lengthAdjust="spacingAndGlyphs">69.6 (0.14) | 8</text>
<path d="M353.5,366.4H396" stroke="#595959" stroke-width="1.5"/>
<text x="405" y="371.2" fill="#626262" textLength="100.8" lengthAdjust="spacingAndGlyphs">70.6 (0.16) | 16</text>
<path d="M353.5,396.5H396" stroke="#000" stroke-width="1.8" stroke-dasharray="11.6,4.4"/>
<text x="405" y="401.3" fill="#000" textLength="100.8" lengthAdjust="spacingAndGlyphs">88.2 (0.13) | 32</text>
</svg>
</body></html>
